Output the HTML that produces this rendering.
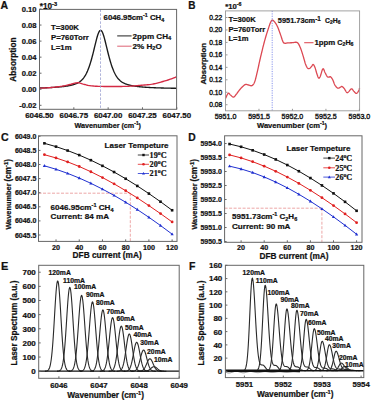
<!DOCTYPE html>
<html><head><meta charset="utf-8"><style>
html,body{margin:0;padding:0;background:#fff;}
body{width:372px;height:400px;overflow:hidden;}
svg{display:block;}
text{stroke:#111;stroke-width:0.22px;paint-order:stroke;}
</style></head><body>
<svg width="372" height="400" viewBox="0 0 372 400">
<rect x="0" y="0" width="372" height="400" fill="#fff"/>
<text x="0.40" y="9.08" font-size="10.5" font-weight="bold" text-anchor="start" fill="#111" font-family='"Liberation Sans", sans-serif' ><tspan dy="-0.00" font-size="10.50">A</tspan></text>
<polyline points="39.50,87.99 40.00,87.98 40.50,87.96 41.00,87.95 41.50,87.93 42.00,87.91 42.50,87.90 43.00,87.88 43.50,87.86 44.00,87.84 44.50,87.83 45.00,87.81 45.50,87.79 46.00,87.77 46.50,87.75 47.00,87.73 47.50,87.70 48.00,87.68 48.50,87.66 49.00,87.64 49.50,87.61 50.00,87.59 50.50,87.56 51.00,87.54 51.50,87.51 52.00,87.48 52.50,87.45 53.00,87.42 53.50,87.39 54.00,87.36 54.50,87.33 55.00,87.30 55.50,87.26 56.00,87.23 56.50,87.19 57.00,87.15 57.50,87.11 58.00,87.07 58.50,87.03 59.00,86.99 59.50,86.94 60.00,86.90 60.50,86.85 61.00,86.80 61.50,86.75 62.00,86.69 62.50,86.64 63.00,86.58 63.50,86.52 64.00,86.46 64.50,86.40 65.00,86.33 65.50,86.26 66.00,86.19 66.50,86.12 67.00,86.04 67.50,85.96 68.00,85.87 68.50,85.78 69.00,85.69 69.50,85.59 70.00,85.49 70.50,85.38 71.00,85.27 71.50,85.16 72.00,85.03 72.50,84.90 73.00,84.76 73.50,84.62 74.00,84.46 74.50,84.30 75.00,84.13 75.50,83.94 76.00,83.74 76.50,83.53 77.00,83.30 77.50,83.06 78.00,82.80 78.50,82.52 79.00,82.22 79.50,81.89 80.00,81.53 80.50,81.15 81.00,80.74 81.50,80.29 82.00,79.80 82.50,79.28 83.00,78.71 83.50,78.09 84.00,77.42 84.50,76.70 85.00,75.92 85.50,75.08 86.00,74.17 86.50,73.20 87.00,72.16 87.50,71.04 88.00,69.84 88.50,68.57 89.00,67.22 89.50,65.79 90.00,64.27 90.50,62.67 91.00,61.00 91.50,59.24 92.00,57.41 92.50,55.52 93.00,53.56 93.50,51.56 94.00,49.51 94.50,47.44 95.00,45.37 95.50,43.31 96.00,41.30 96.50,39.36 97.00,37.52 97.50,35.81 98.00,34.28 98.50,32.95 99.00,31.87 99.50,31.05 100.00,30.53 100.50,30.31 101.00,30.40 101.50,30.81 102.00,31.51 102.50,32.49 103.00,33.72 103.50,35.18 104.00,36.82 104.50,38.61 105.00,40.51 105.50,42.50 106.00,44.54 106.50,46.61 107.00,48.69 107.50,50.74 108.00,52.77 108.50,54.74 109.00,56.66 109.50,58.52 110.00,60.30 110.50,62.01 111.00,63.64 111.50,65.19 112.00,66.66 112.50,68.04 113.00,69.34 113.50,70.57 114.00,71.72 114.50,72.79 115.00,73.79 115.50,74.72 116.00,75.59 116.50,76.39 117.00,77.14 117.50,77.83 118.00,78.46 118.50,79.05 119.00,79.60 119.50,80.10 120.00,80.56 120.50,80.99 121.00,81.38 121.50,81.75 122.00,82.09 122.50,82.40 123.00,82.69 123.50,82.96 124.00,83.21 124.50,83.44 125.00,83.66 125.50,83.86 126.00,84.05 126.50,84.23 127.00,84.40 127.50,84.56 128.00,84.71 128.50,84.85 129.00,84.98 129.50,85.11 130.00,85.23 130.50,85.34 131.00,85.45 131.50,85.55 132.00,85.65 132.50,85.75 133.00,85.84 133.50,85.92 134.00,86.01 134.50,86.08 135.00,86.16 135.50,86.23 136.00,86.30 136.50,86.37 137.00,86.44 137.50,86.50 138.00,86.56 138.50,86.62 139.00,86.67 139.50,86.73 140.00,86.78 140.50,86.83 141.00,86.88 141.50,86.92 142.00,86.97 142.50,87.01 143.00,87.06 143.50,87.10 144.00,87.14 144.50,87.17 145.00,87.21 145.50,87.25 146.00,87.28 146.50,87.32 147.00,87.35 147.50,87.38 148.00,87.41 148.50,87.44 149.00,87.47 149.50,87.50 150.00,87.52 150.50,87.55 151.00,87.58 151.50,87.60 152.00,87.63 152.50,87.65 153.00,87.67 153.50,87.70 154.00,87.72 154.50,87.74 155.00,87.76 155.50,87.78 156.00,87.80 156.50,87.82 157.00,87.84 157.50,87.85 158.00,87.87 158.50,87.89 159.00,87.91 159.50,87.92 160.00,87.94 160.50,87.95 161.00,87.97 161.50,87.98 162.00,88.00 162.50,88.01 163.00,88.03 163.50,88.04 164.00,88.05 164.50,88.07 165.00,88.08 165.50,88.09 166.00,88.10 166.50,88.12 167.00,88.13 167.50,88.14 168.00,88.15 168.50,88.16 169.00,88.17 169.50,88.18 170.00,88.19 170.50,88.20 171.00,88.21 171.50,88.22 172.00,88.23 172.50,88.24 173.00,88.25 173.50,88.26 174.00,88.27 174.50,88.27 175.00,88.28 175.50,88.29 176.00,88.30 176.50,88.31" fill="none" stroke="#1a1a1a" stroke-width="1.35" stroke-linejoin="round" />
<polyline points="39.50,88.30 40.30,88.25 41.35,88.19 42.60,88.12 44.00,88.04 45.49,87.94 47.02,87.84 48.54,87.73 50.00,87.60 51.46,87.46 52.99,87.31 54.57,87.14 56.16,86.96 57.73,86.78 59.25,86.59 60.68,86.39 62.00,86.20 63.19,86.00 64.29,85.80 65.31,85.59 66.28,85.37 67.21,85.15 68.13,84.94 69.05,84.72 70.00,84.50 70.97,84.26 71.93,83.99 72.89,83.70 73.84,83.42 74.78,83.17 75.71,82.96 76.61,82.81 77.50,82.75 78.36,82.79 79.21,82.91 80.03,83.10 80.84,83.33 81.64,83.58 82.43,83.85 83.22,84.09 84.00,84.30 84.75,84.49 85.44,84.68 86.11,84.87 86.78,85.05 87.48,85.23 88.23,85.40 89.06,85.56 90.00,85.70 91.00,85.83 92.03,85.94 93.11,86.04 94.25,86.13 95.49,86.21 96.84,86.28 98.34,86.35 100.00,86.40 101.91,86.44 104.08,86.48 106.43,86.50 108.88,86.51 111.34,86.52 113.73,86.52 115.98,86.51 118.00,86.50 119.80,86.49 121.47,86.46 123.03,86.44 124.50,86.41 125.91,86.37 127.28,86.32 128.64,86.26 130.00,86.20 131.33,86.13 132.59,86.04 133.81,85.95 135.00,85.86 136.19,85.75 137.41,85.64 138.67,85.52 140.00,85.40 141.43,85.27 142.95,85.14 144.53,85.01 146.12,84.87 147.71,84.72 149.23,84.56 150.68,84.39 152.00,84.20 153.19,84.00 154.28,83.78 155.29,83.56 156.25,83.32 157.18,83.07 158.09,82.82 159.03,82.56 160.00,82.30 161.00,82.04 161.99,81.77 162.99,81.50 163.98,81.22 164.98,80.93 165.98,80.63 166.99,80.32 168.00,80.00 169.08,79.64 170.25,79.23 171.46,78.79 172.65,78.36 173.78,77.94 174.80,77.56 175.66,77.24 176.30,77.00" fill="none" stroke="#d42a44" stroke-width="1.35" stroke-linejoin="round" />
<line x1="100.50" y1="9.40" x2="100.50" y2="109.30" stroke="#9aa0d0" stroke-width="0.8" stroke-dasharray="2.5,1.5"/>
<rect x="39.50" y="9.40" width="137.10" height="99.90" fill="none" stroke="#666" stroke-width="1"/>
<text x="36.50" y="11.74" font-size="7.6" font-weight="bold" text-anchor="end" fill="#111" font-family='"Liberation Sans", sans-serif' ><tspan dy="-0.00" font-size="7.60">0.10</tspan></text>
<line x1="39.50" y1="9.00" x2="41.50" y2="9.00" stroke="#666" stroke-width="1" />
<text x="36.50" y="27.79" font-size="7.6" font-weight="bold" text-anchor="end" fill="#111" font-family='"Liberation Sans", sans-serif' ><tspan dy="-0.00" font-size="7.60">0.08</tspan></text>
<line x1="39.50" y1="25.05" x2="41.50" y2="25.05" stroke="#666" stroke-width="1" />
<text x="36.50" y="43.84" font-size="7.6" font-weight="bold" text-anchor="end" fill="#111" font-family='"Liberation Sans", sans-serif' ><tspan dy="-0.00" font-size="7.60">0.06</tspan></text>
<line x1="39.50" y1="41.10" x2="41.50" y2="41.10" stroke="#666" stroke-width="1" />
<text x="36.50" y="59.89" font-size="7.6" font-weight="bold" text-anchor="end" fill="#111" font-family='"Liberation Sans", sans-serif' ><tspan dy="-0.00" font-size="7.60">0.04</tspan></text>
<line x1="39.50" y1="57.15" x2="41.50" y2="57.15" stroke="#666" stroke-width="1" />
<text x="36.50" y="75.94" font-size="7.6" font-weight="bold" text-anchor="end" fill="#111" font-family='"Liberation Sans", sans-serif' ><tspan dy="-0.00" font-size="7.60">0.02</tspan></text>
<line x1="39.50" y1="73.20" x2="41.50" y2="73.20" stroke="#666" stroke-width="1" />
<text x="36.50" y="91.99" font-size="7.6" font-weight="bold" text-anchor="end" fill="#111" font-family='"Liberation Sans", sans-serif' ><tspan dy="-0.00" font-size="7.60">0.00</tspan></text>
<line x1="39.50" y1="89.25" x2="41.50" y2="89.25" stroke="#666" stroke-width="1" />
<text x="36.50" y="108.04" font-size="7.6" font-weight="bold" text-anchor="end" fill="#111" font-family='"Liberation Sans", sans-serif' ><tspan dy="-0.00" font-size="7.60">-0.02</tspan></text>
<line x1="39.50" y1="105.30" x2="41.50" y2="105.30" stroke="#666" stroke-width="1" />
<text x="39.50" y="118.14" font-size="7.9" font-weight="bold" text-anchor="middle" fill="#111" font-family='"Liberation Sans", sans-serif' ><tspan dy="-0.00" font-size="7.90">6046.50</tspan></text>
<line x1="39.50" y1="109.30" x2="39.50" y2="107.30" stroke="#666" stroke-width="1" />
<text x="73.83" y="118.14" font-size="7.9" font-weight="bold" text-anchor="middle" fill="#111" font-family='"Liberation Sans", sans-serif' ><tspan dy="-0.00" font-size="7.90">6046.75</tspan></text>
<line x1="73.83" y1="109.30" x2="73.83" y2="107.30" stroke="#666" stroke-width="1" />
<text x="108.15" y="118.14" font-size="7.9" font-weight="bold" text-anchor="middle" fill="#111" font-family='"Liberation Sans", sans-serif' ><tspan dy="-0.00" font-size="7.90">6047.00</tspan></text>
<line x1="108.15" y1="109.30" x2="108.15" y2="107.30" stroke="#666" stroke-width="1" />
<text x="142.48" y="118.14" font-size="7.9" font-weight="bold" text-anchor="middle" fill="#111" font-family='"Liberation Sans", sans-serif' ><tspan dy="-0.00" font-size="7.90">6047.25</tspan></text>
<line x1="142.48" y1="109.30" x2="142.48" y2="107.30" stroke="#666" stroke-width="1" />
<text x="176.80" y="118.14" font-size="7.9" font-weight="bold" text-anchor="middle" fill="#111" font-family='"Liberation Sans", sans-serif' ><tspan dy="-0.00" font-size="7.90">6047.50</tspan></text>
<line x1="176.80" y1="109.30" x2="176.80" y2="107.30" stroke="#666" stroke-width="1" />
<text x="39.80" y="9.35" font-size="8.2" font-weight="bold" text-anchor="start" fill="#111" font-family='"Liberation Sans", sans-serif' ><tspan dy="-0.00" font-size="8.20">*10</tspan><tspan dy="-3.12" font-size="5.58">-3</tspan></text>
<text transform="translate(12.60,59.60) rotate(-90)" x="0" y="2.99" font-size="8.3" font-weight="bold" text-anchor="middle" fill="#111" font-family='"Liberation Sans", sans-serif'><tspan dy="-0.00" font-size="8.30">Absorption</tspan></text>
<text x="74.60" y="127.89" font-size="7.2" font-weight="bold" text-anchor="start" fill="#111" font-family='"Liberation Sans", sans-serif' ><tspan dy="-0.00" font-size="7.20">Wavenumber (cm</tspan><tspan dy="-2.74" font-size="4.90">-1</tspan><tspan dy="2.74" font-size="7.20">)</tspan></text>
<text x="51.00" y="30.11" font-size="7.8" font-weight="bold" text-anchor="start" fill="#111" font-family='"Liberation Sans", sans-serif' ><tspan dy="-0.00" font-size="7.80">T=300K</tspan></text>
<text x="51.00" y="40.21" font-size="7.8" font-weight="bold" text-anchor="start" fill="#111" font-family='"Liberation Sans", sans-serif' ><tspan dy="-0.00" font-size="7.80">P=760Torr</tspan></text>
<text x="51.00" y="50.01" font-size="7.8" font-weight="bold" text-anchor="start" fill="#111" font-family='"Liberation Sans", sans-serif' ><tspan dy="-0.00" font-size="7.80">L=1m</tspan></text>
<text x="103.60" y="20.41" font-size="7.8" font-weight="bold" text-anchor="start" fill="#111" font-family='"Liberation Sans", sans-serif' ><tspan dy="-0.00" font-size="7.80">6046.95cm</tspan><tspan dy="-2.96" font-size="5.30">-1</tspan><tspan dy="2.96" font-size="7.80"> CH</tspan><tspan dy="1.56" font-size="5.30">4</tspan></text>
<line x1="117.20" y1="35.90" x2="131.60" y2="35.90" stroke="#333" stroke-width="1.1" />
<line x1="117.20" y1="46.20" x2="131.60" y2="46.20" stroke="#e07080" stroke-width="1.1" />
<text x="132.50" y="39.02" font-size="8.1" font-weight="bold" text-anchor="start" fill="#111" font-family='"Liberation Sans", sans-serif' ><tspan dy="-0.00" font-size="8.10">2ppm CH</tspan><tspan dy="0.97" font-size="5.67">4</tspan></text>
<text x="132.50" y="48.72" font-size="8.1" font-weight="bold" text-anchor="start" fill="#111" font-family='"Liberation Sans", sans-serif' ><tspan dy="-0.00" font-size="8.10">2% H</tspan><tspan dy="0.97" font-size="5.67">2</tspan><tspan dy="-0.97" font-size="8.10">O</tspan></text>
<text x="188.20" y="8.90" font-size="10" font-weight="bold" text-anchor="start" fill="#111" font-family='"Liberation Sans", sans-serif' ><tspan dy="-0.00" font-size="10.00">B</tspan></text>
<polyline points="225.50,98.50 225.71,98.05 225.99,97.40 226.33,96.63 226.71,95.79 227.10,94.97 227.49,94.24 227.86,93.66 228.20,93.30 228.50,93.18 228.78,93.23 229.06,93.41 229.32,93.69 229.60,94.03 229.88,94.39 230.18,94.72 230.50,95.00 230.85,95.28 231.22,95.62 231.61,95.99 232.01,96.35 232.42,96.68 232.82,96.93 233.22,97.08 233.60,97.10 233.97,96.96 234.35,96.70 234.72,96.33 235.09,95.89 235.45,95.41 235.81,94.92 236.16,94.44 236.50,94.00 236.83,93.59 237.14,93.17 237.44,92.75 237.74,92.32 238.04,91.89 238.35,91.46 238.67,91.03 239.00,90.60 239.35,90.17 239.71,89.73 240.07,89.29 240.44,88.86 240.82,88.42 241.21,88.00 241.60,87.59 242.00,87.20 242.41,86.81 242.83,86.40 243.26,86.00 243.69,85.61 244.13,85.25 244.56,84.93 244.99,84.68 245.40,84.50 245.80,84.41 246.19,84.40 246.57,84.45 246.95,84.54 247.33,84.66 247.71,84.79 248.10,84.91 248.50,85.00 248.92,85.10 249.35,85.24 249.78,85.40 250.22,85.56 250.66,85.68 251.09,85.74 251.51,85.73 251.90,85.60 252.27,85.40 252.62,85.15 252.96,84.85 253.29,84.47 253.62,84.02 253.94,83.46 254.27,82.79 254.60,82.00 254.94,81.05 255.28,79.95 255.62,78.73 255.96,77.41 256.29,76.03 256.63,74.62 256.97,73.20 257.30,71.80 257.63,70.38 257.97,68.87 258.31,67.33 258.65,65.76 258.98,64.22 259.30,62.72 259.61,61.30 259.90,60.00 260.17,58.82 260.42,57.73 260.66,56.71 260.89,55.74 261.12,54.81 261.34,53.89 261.57,52.96 261.80,52.00 262.03,51.03 262.27,50.07 262.49,49.12 262.73,48.17 262.96,47.22 263.20,46.26 263.44,45.29 263.70,44.30 263.97,43.28 264.25,42.24 264.53,41.18 264.83,40.12 265.12,39.06 265.42,38.01 265.71,36.99 266.00,36.00 266.29,35.04 266.58,34.09 266.88,33.16 267.17,32.24 267.46,31.35 267.75,30.48 268.03,29.63 268.30,28.80 268.57,27.99 268.82,27.18 269.08,26.39 269.32,25.63 269.57,24.89 269.81,24.21 270.06,23.57 270.30,23.00 270.54,22.48 270.77,21.99 271.00,21.54 271.23,21.14 271.46,20.80 271.70,20.52 271.94,20.32 272.20,20.20 272.46,20.17 272.74,20.23 273.01,20.35 273.29,20.55 273.58,20.80 273.88,21.10 274.19,21.44 274.50,21.80 274.82,22.19 275.16,22.61 275.50,23.07 275.84,23.57 276.20,24.13 276.56,24.75 276.93,25.44 277.30,26.20 277.68,27.07 278.09,28.04 278.50,29.10 278.91,30.21 279.33,31.35 279.73,32.48 280.13,33.57 280.50,34.60 280.86,35.61 281.21,36.66 281.55,37.72 281.88,38.74 282.20,39.72 282.51,40.60 282.81,41.37 283.10,42.00 283.37,42.47 283.62,42.79 283.86,43.00 284.09,43.13 284.31,43.20 284.53,43.23 284.76,43.26 285.00,43.30 285.22,43.34 285.42,43.34 285.61,43.30 285.80,43.25 286.02,43.18 286.28,43.11 286.60,43.05 287.00,43.00 287.49,42.96 288.05,42.92 288.68,42.88 289.35,42.84 290.04,42.80 290.75,42.76 291.44,42.73 292.10,42.70 292.76,42.64 293.44,42.53 294.13,42.40 294.82,42.29 295.49,42.22 296.14,42.23 296.75,42.34 297.30,42.60 297.80,43.00 298.25,43.53 298.67,44.15 299.06,44.86 299.43,45.62 299.79,46.43 300.14,47.26 300.50,48.10 300.86,48.96 301.20,49.88 301.53,50.84 301.85,51.84 302.17,52.85 302.48,53.88 302.79,54.89 303.10,55.90 303.41,56.93 303.72,58.00 304.03,59.10 304.34,60.19 304.64,61.25 304.93,62.26 305.22,63.18 305.50,64.00 305.77,64.72 306.03,65.37 306.28,65.95 306.53,66.47 306.77,66.94 307.02,67.34 307.26,67.70 307.50,68.00 307.74,68.25 307.98,68.43 308.21,68.55 308.44,68.62 308.68,68.65 308.91,68.63 309.15,68.58 309.40,68.50 309.66,68.37 309.92,68.18 310.19,67.93 310.46,67.66 310.73,67.36 311.00,67.06 311.26,66.77 311.50,66.50 311.73,66.22 311.95,65.88 312.16,65.53 312.37,65.19 312.57,64.88 312.78,64.65 312.99,64.51 313.20,64.50 313.42,64.62 313.64,64.83 313.87,65.13 314.09,65.50 314.32,65.94 314.55,66.42 314.77,66.95 315.00,67.50 315.23,68.12 315.45,68.82 315.68,69.60 315.90,70.41 316.12,71.23 316.35,72.04 316.57,72.80 316.80,73.50 317.03,74.18 317.25,74.87 317.48,75.56 317.71,76.22 317.94,76.82 318.16,77.33 318.38,77.73 318.60,78.00 318.80,78.14 318.99,78.19 319.17,78.15 319.34,78.01 319.53,77.78 319.73,77.45 319.95,77.03 320.20,76.50 320.49,75.76 320.81,74.74 321.16,73.57 321.52,72.32 321.88,71.12 322.24,70.07 322.58,69.26 322.90,68.80 323.19,68.71 323.46,68.92 323.73,69.34 323.98,69.92 324.23,70.59 324.48,71.29 324.74,71.95 325.00,72.50 325.27,73.01 325.55,73.56 325.84,74.12 326.12,74.69 326.40,75.23 326.68,75.72 326.94,76.16 327.20,76.50 327.45,76.75 327.69,76.94 327.92,77.06 328.15,77.13 328.37,77.17 328.59,77.19 328.80,77.19 329.00,77.20 329.19,77.17 329.36,77.08 329.52,76.96 329.68,76.82 329.83,76.70 330.00,76.62 330.19,76.61 330.40,76.70 330.64,76.88 330.90,77.11 331.17,77.41 331.46,77.75 331.75,78.14 332.04,78.56 332.32,79.02 332.60,79.50 332.87,80.04 333.13,80.66 333.39,81.34 333.65,82.04 333.91,82.74 334.17,83.42 334.43,84.05 334.70,84.60 334.97,85.09 335.25,85.55 335.54,85.98 335.82,86.38 336.11,86.74 336.38,87.07 336.65,87.35 336.90,87.60 337.14,87.80 337.36,87.96 337.57,88.07 337.78,88.15 337.98,88.20 338.19,88.22 338.39,88.22 338.60,88.20 338.81,88.15 339.03,88.06 339.24,87.93 339.45,87.78 339.66,87.62 339.88,87.47 340.09,87.32 340.30,87.20 340.51,87.08 340.71,86.94 340.92,86.80 341.12,86.66 341.33,86.55 341.54,86.48 341.76,86.46 342.00,86.50 342.25,86.61 342.51,86.76 342.77,86.96 343.04,87.21 343.32,87.48 343.61,87.80 343.90,88.14 344.20,88.50 344.51,88.94 344.84,89.47 345.19,90.06 345.53,90.66 345.87,91.25 346.20,91.78 346.52,92.21 346.80,92.50 347.05,92.66 347.26,92.73 347.45,92.72 347.62,92.64 347.81,92.51 348.00,92.33 348.23,92.13 348.50,91.90 348.82,91.60 349.18,91.17 349.56,90.68 349.97,90.17 350.38,89.68 350.78,89.25 351.15,88.95 351.50,88.80 351.81,88.83 352.10,89.00 352.37,89.27 352.63,89.61 352.89,90.00 353.15,90.40 353.42,90.78 353.70,91.10 354.00,91.42 354.31,91.78 354.63,92.16 354.95,92.53 355.27,92.86 355.59,93.13 355.90,93.32 356.20,93.40 356.50,93.36 356.79,93.21 357.09,92.99 357.38,92.70 357.66,92.37 357.93,92.01 358.17,91.65 358.40,91.30 358.61,90.92 358.80,90.48 358.98,90.01 359.14,89.52 359.28,89.05 359.41,88.62 359.51,88.26 359.60,88.00" fill="none" stroke="#dc4852" stroke-width="1.3" stroke-linejoin="round" />
<line x1="272.20" y1="10.90" x2="272.20" y2="110.80" stroke="#6a78e8" stroke-width="0.8" stroke-dasharray="1.2,1.2"/>
<rect x="225.50" y="10.90" width="134.10" height="99.90" fill="none" stroke="#999" stroke-width="0.9"/>
<text x="222.30" y="19.91" font-size="6.7" font-weight="normal" text-anchor="end" fill="#111" font-family='"Liberation Sans", sans-serif' style="stroke-width:0.35px"><tspan dy="-0.00" font-size="6.70">0.22</tspan></text>
<line x1="225.50" y1="17.50" x2="227.50" y2="17.50" stroke="#999" stroke-width="1" />
<text x="222.30" y="32.37" font-size="6.7" font-weight="normal" text-anchor="end" fill="#111" font-family='"Liberation Sans", sans-serif' style="stroke-width:0.35px"><tspan dy="-0.00" font-size="6.70">0.20</tspan></text>
<line x1="225.50" y1="29.96" x2="227.50" y2="29.96" stroke="#999" stroke-width="1" />
<text x="222.30" y="44.83" font-size="6.7" font-weight="normal" text-anchor="end" fill="#111" font-family='"Liberation Sans", sans-serif' style="stroke-width:0.35px"><tspan dy="-0.00" font-size="6.70">0.18</tspan></text>
<line x1="225.50" y1="42.42" x2="227.50" y2="42.42" stroke="#999" stroke-width="1" />
<text x="222.30" y="57.29" font-size="6.7" font-weight="normal" text-anchor="end" fill="#111" font-family='"Liberation Sans", sans-serif' style="stroke-width:0.35px"><tspan dy="-0.00" font-size="6.70">0.16</tspan></text>
<line x1="225.50" y1="54.88" x2="227.50" y2="54.88" stroke="#999" stroke-width="1" />
<text x="222.30" y="69.75" font-size="6.7" font-weight="normal" text-anchor="end" fill="#111" font-family='"Liberation Sans", sans-serif' style="stroke-width:0.35px"><tspan dy="-0.00" font-size="6.70">0.14</tspan></text>
<line x1="225.50" y1="67.34" x2="227.50" y2="67.34" stroke="#999" stroke-width="1" />
<text x="222.30" y="82.21" font-size="6.7" font-weight="normal" text-anchor="end" fill="#111" font-family='"Liberation Sans", sans-serif' style="stroke-width:0.35px"><tspan dy="-0.00" font-size="6.70">0.12</tspan></text>
<line x1="225.50" y1="79.80" x2="227.50" y2="79.80" stroke="#999" stroke-width="1" />
<text x="222.30" y="94.67" font-size="6.7" font-weight="normal" text-anchor="end" fill="#111" font-family='"Liberation Sans", sans-serif' style="stroke-width:0.35px"><tspan dy="-0.00" font-size="6.70">0.10</tspan></text>
<line x1="225.50" y1="92.26" x2="227.50" y2="92.26" stroke="#999" stroke-width="1" />
<text x="222.30" y="107.13" font-size="6.7" font-weight="normal" text-anchor="end" fill="#111" font-family='"Liberation Sans", sans-serif' style="stroke-width:0.35px"><tspan dy="-0.00" font-size="6.70">0.08</tspan></text>
<line x1="225.50" y1="104.72" x2="227.50" y2="104.72" stroke="#999" stroke-width="1" />
<text x="225.50" y="119.36" font-size="7.1" font-weight="normal" text-anchor="middle" fill="#111" font-family='"Liberation Sans", sans-serif' style="stroke-width:0.35px"><tspan dy="-0.00" font-size="7.10">5951.0</tspan></text>
<line x1="225.50" y1="110.80" x2="225.50" y2="108.80" stroke="#999" stroke-width="1" />
<text x="258.98" y="119.36" font-size="7.1" font-weight="normal" text-anchor="middle" fill="#111" font-family='"Liberation Sans", sans-serif' style="stroke-width:0.35px"><tspan dy="-0.00" font-size="7.10">5951.5</tspan></text>
<line x1="258.98" y1="110.80" x2="258.98" y2="108.80" stroke="#999" stroke-width="1" />
<text x="292.45" y="119.36" font-size="7.1" font-weight="normal" text-anchor="middle" fill="#111" font-family='"Liberation Sans", sans-serif' style="stroke-width:0.35px"><tspan dy="-0.00" font-size="7.10">5952.0</tspan></text>
<line x1="292.45" y1="110.80" x2="292.45" y2="108.80" stroke="#999" stroke-width="1" />
<text x="325.93" y="119.36" font-size="7.1" font-weight="normal" text-anchor="middle" fill="#111" font-family='"Liberation Sans", sans-serif' style="stroke-width:0.35px"><tspan dy="-0.00" font-size="7.10">5952.5</tspan></text>
<line x1="325.93" y1="110.80" x2="325.93" y2="108.80" stroke="#999" stroke-width="1" />
<text x="359.40" y="119.36" font-size="7.1" font-weight="normal" text-anchor="middle" fill="#111" font-family='"Liberation Sans", sans-serif' style="stroke-width:0.35px"><tspan dy="-0.00" font-size="7.10">5953.0</tspan></text>
<line x1="359.40" y1="110.80" x2="359.40" y2="108.80" stroke="#999" stroke-width="1" />
<text x="225.20" y="8.67" font-size="7.7" font-weight="bold" text-anchor="start" fill="#111" font-family='"Liberation Sans", sans-serif' ><tspan dy="-0.00" font-size="7.70">*10</tspan><tspan dy="-2.93" font-size="5.24">-6</tspan></text>
<text transform="translate(203.50,63.80) rotate(-90)" x="0" y="2.81" font-size="7.8" font-weight="bold" text-anchor="middle" fill="#111" font-family='"Liberation Sans", sans-serif'><tspan dy="-0.00" font-size="7.80">Absorption</tspan></text>
<text x="257.00" y="128.34" font-size="7.6" font-weight="bold" text-anchor="start" fill="#111" font-family='"Liberation Sans", sans-serif' ><tspan dy="-0.00" font-size="7.60">Wavenumber (cm</tspan><tspan dy="-2.89" font-size="5.17">-1</tspan><tspan dy="2.89" font-size="7.60">)</tspan></text>
<text x="228.40" y="22.44" font-size="7.6" font-weight="bold" text-anchor="start" fill="#111" font-family='"Liberation Sans", sans-serif' ><tspan dy="-0.00" font-size="7.60">T=300K</tspan></text>
<text x="228.40" y="31.54" font-size="7.6" font-weight="bold" text-anchor="start" fill="#111" font-family='"Liberation Sans", sans-serif' ><tspan dy="-0.00" font-size="7.60">P=760Torr</tspan></text>
<text x="228.40" y="40.64" font-size="7.6" font-weight="bold" text-anchor="start" fill="#111" font-family='"Liberation Sans", sans-serif' ><tspan dy="-0.00" font-size="7.60">L=1m</tspan></text>
<text x="277.80" y="23.46" font-size="7.4" font-weight="bold" text-anchor="start" fill="#111" font-family='"Liberation Sans", sans-serif' ><tspan dy="-0.00" font-size="7.40">5951.73cm</tspan><tspan dy="-2.81" font-size="6.29">-1</tspan><tspan dy="2.81" dx="2.20" font-size="7.40"> </tspan><tspan dy="-0.00" font-size="6.81">C</tspan><tspan dy="0.74" font-size="4.90">2</tspan><tspan dy="-0.74" font-size="6.81">H</tspan><tspan dy="0.74" font-size="4.90">6</tspan></text>
<line x1="304.20" y1="42.70" x2="313.50" y2="42.70" stroke="#e05058" stroke-width="1.1" />
<text x="314.40" y="45.41" font-size="7.8" font-weight="bold" text-anchor="start" fill="#111" font-family='"Liberation Sans", sans-serif' ><tspan dy="-0.00" font-size="7.80">1ppm </tspan><tspan dy="-0.00" font-size="7.18">C</tspan><tspan dy="0.78" font-size="5.17">2</tspan><tspan dy="-0.78" font-size="7.18">H</tspan><tspan dy="0.78" font-size="5.17">6</tspan></text>
<text x="0.90" y="140.72" font-size="10.6" font-weight="bold" text-anchor="start" fill="#111" font-family='"Liberation Sans", sans-serif' ><tspan dy="-0.00" font-size="10.60">C</tspan></text>
<line x1="38.50" y1="193.20" x2="130.30" y2="193.20" stroke="#e89090" stroke-width="0.8" stroke-dasharray="3,1.5"/>
<line x1="130.30" y1="193.20" x2="130.30" y2="241.40" stroke="#e89090" stroke-width="0.8" stroke-dasharray="3,1.5"/>
<polyline points="44.41,143.33 56.02,146.63 67.63,150.56 79.24,155.08 90.85,160.18 102.46,165.84 114.07,172.03 125.68,178.74 137.29,185.93 148.90,193.60 160.51,201.71 172.12,210.26" fill="none" stroke="#111" stroke-width="1.0" stroke-linejoin="round" />
<rect x="43.11" y="142.03" width="2.6" height="2.6" fill="#111"/>
<rect x="54.72" y="145.33" width="2.6" height="2.6" fill="#111"/>
<rect x="66.33" y="149.26" width="2.6" height="2.6" fill="#111"/>
<rect x="77.94" y="153.78" width="2.6" height="2.6" fill="#111"/>
<rect x="89.55" y="158.88" width="2.6" height="2.6" fill="#111"/>
<rect x="101.16" y="164.54" width="2.6" height="2.6" fill="#111"/>
<rect x="112.77" y="170.73" width="2.6" height="2.6" fill="#111"/>
<rect x="124.38" y="177.44" width="2.6" height="2.6" fill="#111"/>
<rect x="135.99" y="184.63" width="2.6" height="2.6" fill="#111"/>
<rect x="147.60" y="192.30" width="2.6" height="2.6" fill="#111"/>
<rect x="159.21" y="200.41" width="2.6" height="2.6" fill="#111"/>
<rect x="170.82" y="208.96" width="2.6" height="2.6" fill="#111"/>
<polyline points="44.41,154.69 56.02,157.94 67.63,161.89 79.24,166.51 90.85,171.74 102.46,177.54 114.07,183.87 125.68,190.69 137.29,197.95 148.90,205.61 160.51,213.62 172.12,221.95" fill="none" stroke="#e02020" stroke-width="1.0" stroke-linejoin="round" />
<circle cx="44.41" cy="154.69" r="1.4" fill="#e02020"/>
<circle cx="56.02" cy="157.94" r="1.4" fill="#e02020"/>
<circle cx="67.63" cy="161.89" r="1.4" fill="#e02020"/>
<circle cx="79.24" cy="166.51" r="1.4" fill="#e02020"/>
<circle cx="90.85" cy="171.74" r="1.4" fill="#e02020"/>
<circle cx="102.46" cy="177.54" r="1.4" fill="#e02020"/>
<circle cx="114.07" cy="183.87" r="1.4" fill="#e02020"/>
<circle cx="125.68" cy="190.69" r="1.4" fill="#e02020"/>
<circle cx="137.29" cy="197.95" r="1.4" fill="#e02020"/>
<circle cx="148.90" cy="205.61" r="1.4" fill="#e02020"/>
<circle cx="160.51" cy="213.62" r="1.4" fill="#e02020"/>
<circle cx="172.12" cy="221.95" r="1.4" fill="#e02020"/>
<polyline points="44.41,165.81 56.02,169.28 67.63,173.37 79.24,178.05 90.85,183.30 102.46,189.10 114.07,195.42 125.68,202.24 137.29,209.55 148.90,217.32 160.51,225.52 172.12,234.15" fill="none" stroke="#2030d0" stroke-width="1.0" stroke-linejoin="round" />
<polygon points="44.41,164.11 46.01,167.01 42.81,167.01" fill="#2030d0"/>
<polygon points="56.02,167.58 57.62,170.48 54.42,170.48" fill="#2030d0"/>
<polygon points="67.63,171.67 69.23,174.57 66.03,174.57" fill="#2030d0"/>
<polygon points="79.24,176.35 80.84,179.25 77.64,179.25" fill="#2030d0"/>
<polygon points="90.85,181.60 92.45,184.50 89.25,184.50" fill="#2030d0"/>
<polygon points="102.46,187.40 104.06,190.30 100.86,190.30" fill="#2030d0"/>
<polygon points="114.07,193.72 115.67,196.62 112.47,196.62" fill="#2030d0"/>
<polygon points="125.68,200.54 127.28,203.44 124.08,203.44" fill="#2030d0"/>
<polygon points="137.29,207.85 138.89,210.75 135.69,210.75" fill="#2030d0"/>
<polygon points="148.90,215.62 150.50,218.52 147.30,218.52" fill="#2030d0"/>
<polygon points="160.51,223.82 162.11,226.72 158.91,226.72" fill="#2030d0"/>
<polygon points="172.12,232.45 173.72,235.35 170.52,235.35" fill="#2030d0"/>
<rect x="38.50" y="135.80" width="138.50" height="105.60" fill="none" stroke="#666" stroke-width="1"/>
<text x="36.30" y="138.82" font-size="7.0" font-weight="bold" text-anchor="end" fill="#111" font-family='"Liberation Sans", sans-serif' ><tspan dy="-0.00" font-size="7.00">6049.0</tspan></text>
<line x1="38.50" y1="136.30" x2="40.50" y2="136.30" stroke="#666" stroke-width="1" />
<text x="36.30" y="152.92" font-size="7.0" font-weight="bold" text-anchor="end" fill="#111" font-family='"Liberation Sans", sans-serif' ><tspan dy="-0.00" font-size="7.00">6048.5</tspan></text>
<line x1="38.50" y1="150.40" x2="40.50" y2="150.40" stroke="#666" stroke-width="1" />
<text x="36.30" y="167.02" font-size="7.0" font-weight="bold" text-anchor="end" fill="#111" font-family='"Liberation Sans", sans-serif' ><tspan dy="-0.00" font-size="7.00">6048.0</tspan></text>
<line x1="38.50" y1="164.50" x2="40.50" y2="164.50" stroke="#666" stroke-width="1" />
<text x="36.30" y="181.12" font-size="7.0" font-weight="bold" text-anchor="end" fill="#111" font-family='"Liberation Sans", sans-serif' ><tspan dy="-0.00" font-size="7.00">6047.5</tspan></text>
<line x1="38.50" y1="178.60" x2="40.50" y2="178.60" stroke="#666" stroke-width="1" />
<text x="36.30" y="195.22" font-size="7.0" font-weight="bold" text-anchor="end" fill="#111" font-family='"Liberation Sans", sans-serif' ><tspan dy="-0.00" font-size="7.00">6047.0</tspan></text>
<line x1="38.50" y1="192.70" x2="40.50" y2="192.70" stroke="#666" stroke-width="1" />
<text x="36.30" y="209.32" font-size="7.0" font-weight="bold" text-anchor="end" fill="#111" font-family='"Liberation Sans", sans-serif' ><tspan dy="-0.00" font-size="7.00">6046.5</tspan></text>
<line x1="38.50" y1="206.80" x2="40.50" y2="206.80" stroke="#666" stroke-width="1" />
<text x="36.30" y="223.42" font-size="7.0" font-weight="bold" text-anchor="end" fill="#111" font-family='"Liberation Sans", sans-serif' ><tspan dy="-0.00" font-size="7.00">6046.0</tspan></text>
<line x1="38.50" y1="220.90" x2="40.50" y2="220.90" stroke="#666" stroke-width="1" />
<text x="36.30" y="237.52" font-size="7.0" font-weight="bold" text-anchor="end" fill="#111" font-family='"Liberation Sans", sans-serif' ><tspan dy="-0.00" font-size="7.00">6045.5</tspan></text>
<line x1="38.50" y1="235.00" x2="40.50" y2="235.00" stroke="#666" stroke-width="1" />
<text x="56.02" y="250.09" font-size="7.2" font-weight="bold" text-anchor="middle" fill="#111" font-family='"Liberation Sans", sans-serif' ><tspan dy="-0.00" font-size="7.20">20</tspan></text>
<line x1="56.02" y1="241.40" x2="56.02" y2="239.40" stroke="#666" stroke-width="1" />
<text x="79.24" y="250.09" font-size="7.2" font-weight="bold" text-anchor="middle" fill="#111" font-family='"Liberation Sans", sans-serif' ><tspan dy="-0.00" font-size="7.20">40</tspan></text>
<line x1="79.24" y1="241.40" x2="79.24" y2="239.40" stroke="#666" stroke-width="1" />
<text x="102.46" y="250.09" font-size="7.2" font-weight="bold" text-anchor="middle" fill="#111" font-family='"Liberation Sans", sans-serif' ><tspan dy="-0.00" font-size="7.20">60</tspan></text>
<line x1="102.46" y1="241.40" x2="102.46" y2="239.40" stroke="#666" stroke-width="1" />
<text x="125.68" y="250.09" font-size="7.2" font-weight="bold" text-anchor="middle" fill="#111" font-family='"Liberation Sans", sans-serif' ><tspan dy="-0.00" font-size="7.20">80</tspan></text>
<line x1="125.68" y1="241.40" x2="125.68" y2="239.40" stroke="#666" stroke-width="1" />
<text x="148.90" y="250.09" font-size="7.2" font-weight="bold" text-anchor="middle" fill="#111" font-family='"Liberation Sans", sans-serif' ><tspan dy="-0.00" font-size="7.20">100</tspan></text>
<line x1="148.90" y1="241.40" x2="148.90" y2="239.40" stroke="#666" stroke-width="1" />
<text x="172.12" y="250.09" font-size="7.2" font-weight="bold" text-anchor="middle" fill="#111" font-family='"Liberation Sans", sans-serif' ><tspan dy="-0.00" font-size="7.20">120</tspan></text>
<line x1="172.12" y1="241.40" x2="172.12" y2="239.40" stroke="#666" stroke-width="1" />
<text transform="translate(7.90,194.30) rotate(-90)" x="0" y="2.66" font-size="7.4" font-weight="bold" text-anchor="middle" fill="#111" font-family='"Liberation Sans", sans-serif'><tspan dy="-0.00" font-size="7.40">Wavenumber </tspan><tspan dy="-0.00" font-size="8.14">(cm</tspan><tspan dy="-2.81" font-size="5.92">-1</tspan><tspan dy="2.81" font-size="8.14">)</tspan></text>
<text x="72.60" y="258.29" font-size="8.3" font-weight="bold" text-anchor="start" fill="#111" font-family='"Liberation Sans", sans-serif' ><tspan dy="-0.00" font-size="8.30">DFB current (mA)</tspan></text>
<text x="104.60" y="148.18" font-size="8.0" font-weight="bold" text-anchor="start" fill="#111" font-family='"Liberation Sans", sans-serif' ><tspan dy="-0.00" font-size="8.00">Laser Tempeture</tspan></text>
<line x1="137.80" y1="155.00" x2="149.00" y2="155.00" stroke="#111" stroke-width="0.8" />
<rect x="142.30" y="153.80" width="2.4" height="2.4" fill="#111"/>
<text x="149.60" y="157.95" font-size="8.2" font-weight="bold" text-anchor="start" fill="#111" font-family='"Liberation Serif", serif' ><tspan dy="-0.00" font-size="8.20">19</tspan><tspan dy="-3.12" font-size="5.74">o</tspan><tspan dy="3.12" font-size="8.20">C</tspan></text>
<line x1="137.80" y1="164.30" x2="149.00" y2="164.30" stroke="#e02020" stroke-width="0.8" />
<circle cx="143.50" cy="164.30" r="1.3" fill="#e02020"/>
<text x="149.60" y="167.25" font-size="8.2" font-weight="bold" text-anchor="start" fill="#111" font-family='"Liberation Serif", serif' ><tspan dy="-0.00" font-size="8.20">20</tspan><tspan dy="-3.12" font-size="5.74">o</tspan><tspan dy="3.12" font-size="8.20">C</tspan></text>
<line x1="137.80" y1="173.50" x2="149.00" y2="173.50" stroke="#2030d0" stroke-width="0.8" />
<polygon points="143.50,171.90 145.00,174.60 142.00,174.60" fill="#2030d0"/>
<text x="149.60" y="176.45" font-size="8.2" font-weight="bold" text-anchor="start" fill="#111" font-family='"Liberation Serif", serif' ><tspan dy="-0.00" font-size="8.20">21</tspan><tspan dy="-3.12" font-size="5.74">o</tspan><tspan dy="3.12" font-size="8.20">C</tspan></text>
<text x="50.60" y="210.32" font-size="8.1" font-weight="bold" text-anchor="start" fill="#111" font-family='"Liberation Sans", sans-serif' ><tspan dy="-0.00" font-size="8.10">6046.95cm</tspan><tspan dy="-3.08" font-size="5.51">-1</tspan><tspan dy="3.08" font-size="8.10"> CH</tspan><tspan dy="1.62" font-size="5.51">4</tspan></text>
<text x="50.60" y="219.22" font-size="8.1" font-weight="bold" text-anchor="start" fill="#111" font-family='"Liberation Sans", sans-serif' ><tspan dy="-0.00" font-size="8.10">Current: 84 mA</tspan></text>
<text x="188.30" y="140.81" font-size="10.3" font-weight="bold" text-anchor="start" fill="#111" font-family='"Liberation Sans", sans-serif' ><tspan dy="-0.00" font-size="10.30">D</tspan></text>
<line x1="224.60" y1="208.20" x2="321.90" y2="208.20" stroke="#e89090" stroke-width="0.8" stroke-dasharray="3,1.5"/>
<line x1="321.90" y1="208.20" x2="321.90" y2="242.30" stroke="#e89090" stroke-width="0.8" stroke-dasharray="3,1.5"/>
<polyline points="229.55,144.04 241.10,146.80 252.65,150.31 264.20,154.54 275.75,159.45 287.30,165.03 298.85,171.23 310.40,178.05 321.95,185.44 333.50,193.38 345.05,201.84 356.60,210.79" fill="none" stroke="#111" stroke-width="1.0" stroke-linejoin="round" />
<rect x="228.25" y="142.74" width="2.6" height="2.6" fill="#111"/>
<rect x="239.80" y="145.50" width="2.6" height="2.6" fill="#111"/>
<rect x="251.35" y="149.01" width="2.6" height="2.6" fill="#111"/>
<rect x="262.90" y="153.24" width="2.6" height="2.6" fill="#111"/>
<rect x="274.45" y="158.15" width="2.6" height="2.6" fill="#111"/>
<rect x="286.00" y="163.73" width="2.6" height="2.6" fill="#111"/>
<rect x="297.55" y="169.93" width="2.6" height="2.6" fill="#111"/>
<rect x="309.10" y="176.75" width="2.6" height="2.6" fill="#111"/>
<rect x="320.65" y="184.14" width="2.6" height="2.6" fill="#111"/>
<rect x="332.20" y="192.08" width="2.6" height="2.6" fill="#111"/>
<rect x="343.75" y="200.54" width="2.6" height="2.6" fill="#111"/>
<rect x="355.30" y="209.49" width="2.6" height="2.6" fill="#111"/>
<polyline points="229.55,154.90 241.10,157.92 252.65,161.68 264.20,166.15 275.75,171.28 287.30,177.04 298.85,183.39 310.40,190.30 321.95,197.71 333.50,205.59 345.05,213.91 356.60,222.63" fill="none" stroke="#e02020" stroke-width="1.0" stroke-linejoin="round" />
<circle cx="229.55" cy="154.90" r="1.4" fill="#e02020"/>
<circle cx="241.10" cy="157.92" r="1.4" fill="#e02020"/>
<circle cx="252.65" cy="161.68" r="1.4" fill="#e02020"/>
<circle cx="264.20" cy="166.15" r="1.4" fill="#e02020"/>
<circle cx="275.75" cy="171.28" r="1.4" fill="#e02020"/>
<circle cx="287.30" cy="177.04" r="1.4" fill="#e02020"/>
<circle cx="298.85" cy="183.39" r="1.4" fill="#e02020"/>
<circle cx="310.40" cy="190.30" r="1.4" fill="#e02020"/>
<circle cx="321.95" cy="197.71" r="1.4" fill="#e02020"/>
<circle cx="333.50" cy="205.59" r="1.4" fill="#e02020"/>
<circle cx="345.05" cy="213.91" r="1.4" fill="#e02020"/>
<circle cx="356.60" cy="222.63" r="1.4" fill="#e02020"/>
<polyline points="229.55,166.16 241.10,168.94 252.65,172.55 264.20,176.94 275.75,182.05 287.30,187.84 298.85,194.26 310.40,201.28 321.95,208.83 333.50,216.87 345.05,225.35 356.60,234.24" fill="none" stroke="#2030d0" stroke-width="1.0" stroke-linejoin="round" />
<polygon points="229.55,164.46 231.15,167.36 227.95,167.36" fill="#2030d0"/>
<polygon points="241.10,167.24 242.70,170.14 239.50,170.14" fill="#2030d0"/>
<polygon points="252.65,170.85 254.25,173.75 251.05,173.75" fill="#2030d0"/>
<polygon points="264.20,175.24 265.80,178.14 262.60,178.14" fill="#2030d0"/>
<polygon points="275.75,180.35 277.35,183.25 274.15,183.25" fill="#2030d0"/>
<polygon points="287.30,186.14 288.90,189.04 285.70,189.04" fill="#2030d0"/>
<polygon points="298.85,192.56 300.45,195.46 297.25,195.46" fill="#2030d0"/>
<polygon points="310.40,199.58 312.00,202.48 308.80,202.48" fill="#2030d0"/>
<polygon points="321.95,207.13 323.55,210.03 320.35,210.03" fill="#2030d0"/>
<polygon points="333.50,215.17 335.10,218.07 331.90,218.07" fill="#2030d0"/>
<polygon points="345.05,223.65 346.65,226.55 343.45,226.55" fill="#2030d0"/>
<polygon points="356.60,232.54 358.20,235.44 355.00,235.44" fill="#2030d0"/>
<rect x="224.60" y="135.80" width="137.40" height="106.50" fill="none" stroke="#666" stroke-width="1"/>
<text x="221.80" y="146.02" font-size="7.0" font-weight="bold" text-anchor="end" fill="#111" font-family='"Liberation Sans", sans-serif' ><tspan dy="-0.00" font-size="7.00">5954.0</tspan></text>
<line x1="224.60" y1="143.50" x2="226.60" y2="143.50" stroke="#666" stroke-width="1" />
<text x="221.80" y="160.02" font-size="7.0" font-weight="bold" text-anchor="end" fill="#111" font-family='"Liberation Sans", sans-serif' ><tspan dy="-0.00" font-size="7.00">5953.5</tspan></text>
<line x1="224.60" y1="157.50" x2="226.60" y2="157.50" stroke="#666" stroke-width="1" />
<text x="221.80" y="174.02" font-size="7.0" font-weight="bold" text-anchor="end" fill="#111" font-family='"Liberation Sans", sans-serif' ><tspan dy="-0.00" font-size="7.00">5953.0</tspan></text>
<line x1="224.60" y1="171.50" x2="226.60" y2="171.50" stroke="#666" stroke-width="1" />
<text x="221.80" y="188.02" font-size="7.0" font-weight="bold" text-anchor="end" fill="#111" font-family='"Liberation Sans", sans-serif' ><tspan dy="-0.00" font-size="7.00">5952.5</tspan></text>
<line x1="224.60" y1="185.50" x2="226.60" y2="185.50" stroke="#666" stroke-width="1" />
<text x="221.80" y="202.02" font-size="7.0" font-weight="bold" text-anchor="end" fill="#111" font-family='"Liberation Sans", sans-serif' ><tspan dy="-0.00" font-size="7.00">5952.0</tspan></text>
<line x1="224.60" y1="199.50" x2="226.60" y2="199.50" stroke="#666" stroke-width="1" />
<text x="221.80" y="216.02" font-size="7.0" font-weight="bold" text-anchor="end" fill="#111" font-family='"Liberation Sans", sans-serif' ><tspan dy="-0.00" font-size="7.00">5951.5</tspan></text>
<line x1="224.60" y1="213.50" x2="226.60" y2="213.50" stroke="#666" stroke-width="1" />
<text x="221.80" y="230.02" font-size="7.0" font-weight="bold" text-anchor="end" fill="#111" font-family='"Liberation Sans", sans-serif' ><tspan dy="-0.00" font-size="7.00">5951.0</tspan></text>
<line x1="224.60" y1="227.50" x2="226.60" y2="227.50" stroke="#666" stroke-width="1" />
<text x="221.80" y="244.02" font-size="7.0" font-weight="bold" text-anchor="end" fill="#111" font-family='"Liberation Sans", sans-serif' ><tspan dy="-0.00" font-size="7.00">5950.5</tspan></text>
<line x1="224.60" y1="241.50" x2="226.60" y2="241.50" stroke="#666" stroke-width="1" />
<text x="241.10" y="250.09" font-size="7.2" font-weight="bold" text-anchor="middle" fill="#111" font-family='"Liberation Sans", sans-serif' ><tspan dy="-0.00" font-size="7.20">20</tspan></text>
<line x1="241.10" y1="242.30" x2="241.10" y2="240.30" stroke="#666" stroke-width="1" />
<text x="264.20" y="250.09" font-size="7.2" font-weight="bold" text-anchor="middle" fill="#111" font-family='"Liberation Sans", sans-serif' ><tspan dy="-0.00" font-size="7.20">40</tspan></text>
<line x1="264.20" y1="242.30" x2="264.20" y2="240.30" stroke="#666" stroke-width="1" />
<text x="287.30" y="250.09" font-size="7.2" font-weight="bold" text-anchor="middle" fill="#111" font-family='"Liberation Sans", sans-serif' ><tspan dy="-0.00" font-size="7.20">60</tspan></text>
<line x1="287.30" y1="242.30" x2="287.30" y2="240.30" stroke="#666" stroke-width="1" />
<text x="310.40" y="250.09" font-size="7.2" font-weight="bold" text-anchor="middle" fill="#111" font-family='"Liberation Sans", sans-serif' ><tspan dy="-0.00" font-size="7.20">80</tspan></text>
<line x1="310.40" y1="242.30" x2="310.40" y2="240.30" stroke="#666" stroke-width="1" />
<text x="333.50" y="250.09" font-size="7.2" font-weight="bold" text-anchor="middle" fill="#111" font-family='"Liberation Sans", sans-serif' ><tspan dy="-0.00" font-size="7.20">100</tspan></text>
<line x1="333.50" y1="242.30" x2="333.50" y2="240.30" stroke="#666" stroke-width="1" />
<text x="356.60" y="250.09" font-size="7.2" font-weight="bold" text-anchor="middle" fill="#111" font-family='"Liberation Sans", sans-serif' ><tspan dy="-0.00" font-size="7.20">120</tspan></text>
<line x1="356.60" y1="242.30" x2="356.60" y2="240.30" stroke="#666" stroke-width="1" />
<text transform="translate(193.90,194.30) rotate(-90)" x="0" y="2.66" font-size="7.4" font-weight="bold" text-anchor="middle" fill="#111" font-family='"Liberation Sans", sans-serif'><tspan dy="-0.00" font-size="7.40">Wavenumber </tspan><tspan dy="-0.00" font-size="8.14">(cm</tspan><tspan dy="-2.81" font-size="5.92">-1</tspan><tspan dy="2.81" font-size="8.14">)</tspan></text>
<text x="259.40" y="258.79" font-size="8.3" font-weight="bold" text-anchor="start" fill="#111" font-family='"Liberation Sans", sans-serif' ><tspan dy="-0.00" font-size="8.30">DFB current (mA)</tspan></text>
<text x="286.50" y="151.38" font-size="8.0" font-weight="bold" text-anchor="start" fill="#111" font-family='"Liberation Sans", sans-serif' ><tspan dy="-0.00" font-size="8.00">Laser Tempeture</tspan></text>
<line x1="323.30" y1="158.10" x2="335.00" y2="158.10" stroke="#111" stroke-width="0.8" />
<rect x="328.10" y="156.90" width="2.4" height="2.4" fill="#111"/>
<text x="335.30" y="161.05" font-size="8.2" font-weight="bold" text-anchor="start" fill="#111" font-family='"Liberation Serif", serif' ><tspan dy="-0.00" font-size="8.20">24</tspan><tspan dy="-3.12" font-size="5.74">o</tspan><tspan dy="3.12" font-size="8.20">C</tspan></text>
<line x1="323.30" y1="167.80" x2="335.00" y2="167.80" stroke="#e02020" stroke-width="0.8" />
<circle cx="329.30" cy="167.80" r="1.3" fill="#e02020"/>
<text x="335.30" y="170.75" font-size="8.2" font-weight="bold" text-anchor="start" fill="#111" font-family='"Liberation Serif", serif' ><tspan dy="-0.00" font-size="8.20">25</tspan><tspan dy="-3.12" font-size="5.74">o</tspan><tspan dy="3.12" font-size="8.20">C</tspan></text>
<line x1="323.30" y1="177.10" x2="335.00" y2="177.10" stroke="#2030d0" stroke-width="0.8" />
<polygon points="329.30,175.50 330.80,178.20 327.80,178.20" fill="#2030d0"/>
<text x="335.30" y="180.05" font-size="8.2" font-weight="bold" text-anchor="start" fill="#111" font-family='"Liberation Serif", serif' ><tspan dy="-0.00" font-size="8.20">26</tspan><tspan dy="-3.12" font-size="5.74">o</tspan><tspan dy="3.12" font-size="8.20">C</tspan></text>
<text x="232.00" y="219.28" font-size="8.0" font-weight="bold" text-anchor="start" fill="#111" font-family='"Liberation Sans", sans-serif' ><tspan dy="-0.00" font-size="8.00">5951.73cm</tspan><tspan dy="-3.04" font-size="5.44">-1</tspan><tspan dy="3.04" font-size="8.00"> C</tspan><tspan dy="1.60" font-size="5.44">2</tspan><tspan dy="-1.60" font-size="8.00">H</tspan><tspan dy="1.60" font-size="5.44">6</tspan></text>
<text x="232.00" y="228.52" font-size="8.1" font-weight="bold" text-anchor="start" fill="#111" font-family='"Liberation Sans", sans-serif' ><tspan dy="-0.00" font-size="8.10">Current: 90 mA</tspan></text>
<text x="1.10" y="269.86" font-size="11" font-weight="bold" text-anchor="start" fill="#111" font-family='"Liberation Sans", sans-serif' ><tspan dy="-0.00" font-size="11.00">E</tspan></text>
<polyline points="44.90,371.17 45.30,371.15 45.70,371.12 46.10,371.07 46.50,371.00 46.90,370.90 47.30,370.74 47.70,370.52 48.10,370.20 48.50,369.75 48.90,369.14 49.30,368.32 49.70,367.23 50.10,365.82 50.50,364.02 50.90,361.76 51.30,358.98 51.70,355.63 52.10,351.67 52.50,347.09 52.90,341.88 53.30,336.11 53.70,329.86 54.10,323.24 54.50,316.43 54.90,309.62 55.30,303.04 55.70,296.92 56.10,291.51 56.50,287.03 56.90,283.68 57.30,281.60 57.70,280.90 58.10,281.60 58.50,283.68 58.90,287.03 59.30,291.51 59.70,296.92 60.10,303.04 60.50,309.62 60.90,316.43 61.30,323.24 61.70,329.86 62.10,336.11 62.50,341.88 62.90,347.09 63.30,351.67 63.70,355.63 64.10,358.98 64.50,361.76 64.90,364.02 65.30,365.82 65.70,367.23 66.10,368.32 66.50,369.14 66.90,369.75 67.30,370.20 67.70,370.52 68.10,370.74 68.50,370.90 68.90,371.00 69.30,371.07 69.70,371.12 70.10,371.15" fill="none" stroke="#2a2a2a" stroke-width="1.1" stroke-linejoin="round" />
<polyline points="57.00,371.17 57.40,371.15 57.80,371.13 58.20,371.08 58.60,371.02 59.00,370.92 59.40,370.77 59.80,370.57 60.20,370.27 60.60,369.86 61.00,369.29 61.40,368.53 61.80,367.52 62.20,366.21 62.60,364.53 63.00,362.44 63.40,359.86 63.80,356.75 64.20,353.08 64.60,348.82 65.00,343.99 65.40,338.64 65.80,332.83 66.20,326.69 66.60,320.37 67.00,314.05 67.40,307.94 67.80,302.27 68.20,297.25 68.60,293.09 69.00,289.98 69.40,288.05 69.80,287.40 70.20,288.05 70.60,289.98 71.00,293.09 71.40,297.25 71.80,302.27 72.20,307.94 72.60,314.05 73.00,320.37 73.40,326.69 73.80,332.83 74.20,338.64 74.60,343.99 75.00,348.82 75.40,353.08 75.80,356.75 76.20,359.86 76.60,362.44 77.00,364.53 77.40,366.21 77.80,367.52 78.20,368.53 78.60,369.29 79.00,369.86 79.40,370.27 79.80,370.57 80.20,370.77 80.60,370.92 81.00,371.02 81.40,371.08 81.80,371.13 82.20,371.15" fill="none" stroke="#2a2a2a" stroke-width="1.1" stroke-linejoin="round" />
<polyline points="68.80,371.17 69.20,371.16 69.60,371.13 70.00,371.09 70.40,371.03 70.80,370.95 71.20,370.81 71.60,370.63 72.00,370.36 72.40,369.98 72.80,369.47 73.20,368.78 73.60,367.87 74.00,366.68 74.40,365.17 74.80,363.27 75.20,360.94 75.60,358.13 76.00,354.81 76.40,350.96 76.80,346.59 77.20,341.75 77.60,336.50 78.00,330.94 78.40,325.22 78.80,319.51 79.20,313.98 79.60,308.85 80.00,304.31 80.40,300.55 80.80,297.73 81.20,295.99 81.60,295.40 82.00,295.99 82.40,297.73 82.80,300.55 83.20,304.31 83.60,308.85 84.00,313.98 84.40,319.51 84.80,325.22 85.20,330.94 85.60,336.50 86.00,341.75 86.40,346.59 86.80,350.96 87.20,354.81 87.60,358.13 88.00,360.94 88.40,363.27 88.80,365.17 89.20,366.68 89.60,367.87 90.00,368.78 90.40,369.47 90.80,369.98 91.20,370.36 91.60,370.63 92.00,370.81 92.40,370.95 92.80,371.03 93.20,371.09 93.60,371.13 94.00,371.16" fill="none" stroke="#2a2a2a" stroke-width="1.1" stroke-linejoin="round" />
<polyline points="79.70,371.18 80.10,371.16 80.50,371.14 80.90,371.10 81.30,371.05 81.70,370.97 82.10,370.85 82.50,370.68 82.90,370.43 83.30,370.09 83.70,369.62 84.10,368.99 84.50,368.16 84.90,367.07 85.30,365.69 85.70,363.95 86.10,361.82 86.50,359.25 86.90,356.21 87.30,352.69 87.70,348.70 88.10,344.27 88.50,339.47 88.90,334.40 89.30,329.17 89.70,323.94 90.10,318.89 90.50,314.20 90.90,310.04 91.30,306.61 91.70,304.03 92.10,302.44 92.50,301.90 92.90,302.44 93.30,304.03 93.70,306.61 94.10,310.04 94.50,314.20 94.90,318.89 95.30,323.94 95.70,329.17 96.10,334.40 96.50,339.47 96.90,344.27 97.30,348.70 97.70,352.69 98.10,356.21 98.50,359.25 98.90,361.82 99.30,363.95 99.70,365.69 100.10,367.07 100.50,368.16 100.90,368.99 101.30,369.62 101.70,370.09 102.10,370.43 102.50,370.68 102.90,370.85 103.30,370.97 103.70,371.05 104.10,371.10 104.50,371.14 104.90,371.16" fill="none" stroke="#2a2a2a" stroke-width="1.1" stroke-linejoin="round" />
<polyline points="90.10,371.18 90.50,371.17 90.90,371.15 91.30,371.11 91.70,371.07 92.10,370.99 92.50,370.89 92.90,370.74 93.30,370.52 93.70,370.22 94.10,369.80 94.50,369.24 94.90,368.51 95.30,367.55 95.70,366.32 96.10,364.79 96.50,362.90 96.90,360.63 97.30,357.94 97.70,354.83 98.10,351.30 98.50,347.38 98.90,343.13 99.30,338.64 99.70,334.02 100.10,329.40 100.50,324.93 100.90,320.78 101.30,317.10 101.70,314.06 102.10,311.79 102.50,310.38 102.90,309.90 103.30,310.38 103.70,311.79 104.10,314.06 104.50,317.10 104.90,320.78 105.30,324.93 105.70,329.40 106.10,334.02 106.50,338.64 106.90,343.13 107.30,347.38 107.70,351.30 108.10,354.83 108.50,357.94 108.90,360.63 109.30,362.90 109.70,364.79 110.10,366.32 110.50,367.55 110.90,368.51 111.30,369.24 111.70,369.80 112.10,370.22 112.50,370.52 112.90,370.74 113.30,370.89 113.70,370.99 114.10,371.07 114.50,371.11 114.90,371.15 115.30,371.17" fill="none" stroke="#2a2a2a" stroke-width="1.1" stroke-linejoin="round" />
<polyline points="99.80,371.18 100.20,371.17 100.60,371.15 101.00,371.12 101.40,371.08 101.80,371.02 102.20,370.93 102.60,370.79 103.00,370.60 103.40,370.34 103.80,369.98 104.20,369.49 104.60,368.84 105.00,368.01 105.40,366.94 105.80,365.59 106.20,363.95 106.60,361.96 107.00,359.61 107.40,356.89 107.80,353.80 108.20,350.37 108.60,346.66 109.00,342.73 109.40,338.69 109.80,334.65 110.20,330.74 110.60,327.11 111.00,323.90 111.40,321.24 111.80,319.25 112.20,318.02 112.60,317.60 113.00,318.02 113.40,319.25 113.80,321.24 114.20,323.90 114.60,327.11 115.00,330.74 115.40,334.65 115.80,338.69 116.20,342.73 116.60,346.66 117.00,350.37 117.40,353.80 117.80,356.89 118.20,359.61 118.60,361.96 119.00,363.95 119.40,365.59 119.80,366.94 120.20,368.01 120.60,368.84 121.00,369.49 121.40,369.98 121.80,370.34 122.20,370.60 122.60,370.79 123.00,370.93 123.40,371.02 123.80,371.08 124.20,371.12 124.60,371.15 125.00,371.17" fill="none" stroke="#2a2a2a" stroke-width="1.1" stroke-linejoin="round" />
<polyline points="108.50,371.18 108.90,371.18 109.30,371.16 109.70,371.14 110.10,371.10 110.50,371.05 110.90,370.97 111.30,370.86 111.70,370.70 112.10,370.48 112.50,370.17 112.90,369.76 113.30,369.22 113.70,368.51 114.10,367.61 114.50,366.48 114.90,365.10 115.30,363.42 115.70,361.45 116.10,359.16 116.50,356.56 116.90,353.68 117.30,350.55 117.70,347.25 118.10,343.85 118.50,340.44 118.90,337.16 119.30,334.10 119.70,331.40 120.10,329.16 120.50,327.49 120.90,326.45 121.30,326.10 121.70,326.45 122.10,327.49 122.50,329.16 122.90,331.40 123.30,334.10 123.70,337.16 124.10,340.44 124.50,343.85 124.90,347.25 125.30,350.55 125.70,353.68 126.10,356.56 126.50,359.16 126.90,361.45 127.30,363.42 127.70,365.10 128.10,366.48 128.50,367.61 128.90,368.51 129.30,369.22 129.70,369.76 130.10,370.17 130.50,370.48 130.90,370.70 131.30,370.86 131.70,370.97 132.10,371.05 132.50,371.10 132.90,371.14 133.30,371.16 133.70,371.18" fill="none" stroke="#2a2a2a" stroke-width="1.1" stroke-linejoin="round" />
<polyline points="116.50,371.19 116.90,371.18 117.30,371.17 117.70,371.15 118.10,371.12 118.50,371.07 118.90,371.01 119.30,370.92 119.70,370.79 120.10,370.60 120.50,370.35 120.90,370.01 121.30,369.57 121.70,368.98 122.10,368.24 122.50,367.31 122.90,366.17 123.30,364.79 123.70,363.15 124.10,361.27 124.50,359.12 124.90,356.75 125.30,354.17 125.70,351.44 126.10,348.64 126.50,345.83 126.90,343.12 127.30,340.60 127.70,338.37 128.10,336.53 128.50,335.14 128.90,334.29 129.30,334.00 129.70,334.29 130.10,335.14 130.50,336.53 130.90,338.37 131.30,340.60 131.70,343.12 132.10,345.83 132.50,348.64 132.90,351.44 133.30,354.17 133.70,356.75 134.10,359.12 134.50,361.27 134.90,363.15 135.30,364.79 135.70,366.17 136.10,367.31 136.50,368.24 136.90,368.98 137.30,369.57 137.70,370.01 138.10,370.35 138.50,370.60 138.90,370.79 139.30,370.92 139.70,371.01 140.10,371.07 140.50,371.12 140.90,371.15 141.30,371.17 141.70,371.18" fill="none" stroke="#2a2a2a" stroke-width="1.1" stroke-linejoin="round" />
<polyline points="123.90,371.19 124.30,371.18 124.70,371.17 125.10,371.16 125.50,371.14 125.90,371.10 126.30,371.05 126.70,370.98 127.10,370.88 127.50,370.74 127.90,370.54 128.30,370.28 128.70,369.93 129.10,369.48 129.50,368.90 129.90,368.18 130.30,367.29 130.70,366.22 131.10,364.95 131.50,363.48 131.90,361.82 132.30,359.97 132.70,357.97 133.10,355.85 133.50,353.67 133.90,351.49 134.30,349.39 134.70,347.43 135.10,345.70 135.50,344.26 135.90,343.19 136.30,342.52 136.70,342.30 137.10,342.52 137.50,343.19 137.90,344.26 138.30,345.70 138.70,347.43 139.10,349.39 139.50,351.49 139.90,353.67 140.30,355.85 140.70,357.97 141.10,359.97 141.50,361.82 141.90,363.48 142.30,364.95 142.70,366.22 143.10,367.29 143.50,368.18 143.90,368.90 144.30,369.48 144.70,369.93 145.10,370.28 145.50,370.54 145.90,370.74 146.30,370.88 146.70,370.98 147.10,371.05 147.50,371.10 147.90,371.14 148.30,371.16 148.70,371.17 149.10,371.18" fill="none" stroke="#2a2a2a" stroke-width="1.1" stroke-linejoin="round" />
<polyline points="130.80,371.19 131.20,371.19 131.60,371.18 132.00,371.17 132.40,371.15 132.80,371.13 133.20,371.09 133.60,371.04 134.00,370.96 134.40,370.86 134.80,370.72 135.20,370.52 135.60,370.27 136.00,369.94 136.40,369.51 136.80,368.98 137.20,368.33 137.60,367.54 138.00,366.62 138.40,365.54 138.80,364.32 139.20,362.96 139.60,361.49 140.00,359.94 140.40,358.34 140.80,356.74 141.20,355.20 141.60,353.76 142.00,352.49 142.40,351.44 142.80,350.65 143.20,350.16 143.60,350.00 144.00,350.16 144.40,350.65 144.80,351.44 145.20,352.49 145.60,353.76 146.00,355.20 146.40,356.74 146.80,358.34 147.20,359.94 147.60,361.49 148.00,362.96 148.40,364.32 148.80,365.54 149.20,366.62 149.60,367.54 150.00,368.33 150.40,368.98 150.80,369.51 151.20,369.94 151.60,370.27 152.00,370.52 152.40,370.72 152.80,370.86 153.20,370.96 153.60,371.04 154.00,371.09 154.40,371.13 154.80,371.15 155.20,371.17 155.60,371.18 156.00,371.19" fill="none" stroke="#2a2a2a" stroke-width="1.1" stroke-linejoin="round" />
<polyline points="137.10,371.20 137.50,371.19 137.90,371.19 138.30,371.18 138.70,371.17 139.10,371.16 139.50,371.14 139.90,371.11 140.30,371.06 140.70,371.00 141.10,370.92 141.50,370.80 141.90,370.66 142.30,370.46 142.70,370.21 143.10,369.90 143.50,369.52 143.90,369.06 144.30,368.52 144.70,367.89 145.10,367.17 145.50,366.38 145.90,365.52 146.30,364.61 146.70,363.68 147.10,362.74 147.50,361.84 147.90,361.00 148.30,360.26 148.70,359.64 149.10,359.18 149.50,358.90 149.90,358.80 150.30,358.90 150.70,359.18 151.10,359.64 151.50,360.26 151.90,361.00 152.30,361.84 152.70,362.74 153.10,363.68 153.50,364.61 153.90,365.52 154.30,366.38 154.70,367.17 155.10,367.89 155.50,368.52 155.90,369.06 156.30,369.52 156.70,369.90 157.10,370.21 157.50,370.46 157.90,370.66 158.30,370.80 158.70,370.92 159.10,371.00 159.50,371.06 159.90,371.11 160.30,371.14 160.70,371.16 161.10,371.17 161.50,371.18 161.90,371.19 162.30,371.19" fill="none" stroke="#2a2a2a" stroke-width="1.1" stroke-linejoin="round" />
<polyline points="141.20,371.20 141.60,371.20 142.00,371.20 142.40,371.19 142.80,371.19 143.20,371.18 143.60,371.18 144.00,371.17 144.40,371.15 144.80,371.13 145.20,371.10 145.60,371.06 146.00,371.00 146.40,370.93 146.80,370.84 147.20,370.73 147.60,370.59 148.00,370.42 148.40,370.23 148.80,370.00 149.20,369.74 149.60,369.45 150.00,369.14 150.40,368.81 150.80,368.47 151.20,368.13 151.60,367.80 152.00,367.50 152.40,367.23 152.80,367.01 153.20,366.84 153.60,366.74 154.00,366.70 154.40,366.74 154.80,366.84 155.20,367.01 155.60,367.23 156.00,367.50 156.40,367.80 156.80,368.13 157.20,368.47 157.60,368.81 158.00,369.14 158.40,369.45 158.80,369.74 159.20,370.00 159.60,370.23 160.00,370.42 160.40,370.59 160.80,370.73 161.20,370.84 161.60,370.93 162.00,371.00 162.40,371.06 162.80,371.10 163.20,371.13 163.60,371.15 164.00,371.17 164.40,371.18 164.80,371.18 165.20,371.19 165.60,371.19 166.00,371.20 166.40,371.20" fill="none" stroke="#2a2a2a" stroke-width="1.1" stroke-linejoin="round" />
<line x1="38.70" y1="371.20" x2="179.20" y2="371.20" stroke="#111" stroke-width="1.3" />
<rect x="38.70" y="265.30" width="140.50" height="113.00" fill="none" stroke="#666" stroke-width="1"/>
<text x="35.80" y="275.10" font-size="8.0" font-weight="bold" text-anchor="end" fill="#111" font-family='"Liberation Sans", sans-serif' ><tspan dy="-0.00" font-size="8.00">700</tspan></text>
<line x1="38.70" y1="272.22" x2="40.70" y2="272.22" stroke="#666" stroke-width="1" />
<text x="35.80" y="289.24" font-size="8.0" font-weight="bold" text-anchor="end" fill="#111" font-family='"Liberation Sans", sans-serif' ><tspan dy="-0.00" font-size="8.00">600</tspan></text>
<line x1="38.70" y1="286.36" x2="40.70" y2="286.36" stroke="#666" stroke-width="1" />
<text x="35.80" y="303.38" font-size="8.0" font-weight="bold" text-anchor="end" fill="#111" font-family='"Liberation Sans", sans-serif' ><tspan dy="-0.00" font-size="8.00">500</tspan></text>
<line x1="38.70" y1="300.50" x2="40.70" y2="300.50" stroke="#666" stroke-width="1" />
<text x="35.80" y="317.52" font-size="8.0" font-weight="bold" text-anchor="end" fill="#111" font-family='"Liberation Sans", sans-serif' ><tspan dy="-0.00" font-size="8.00">400</tspan></text>
<line x1="38.70" y1="314.64" x2="40.70" y2="314.64" stroke="#666" stroke-width="1" />
<text x="35.80" y="331.66" font-size="8.0" font-weight="bold" text-anchor="end" fill="#111" font-family='"Liberation Sans", sans-serif' ><tspan dy="-0.00" font-size="8.00">300</tspan></text>
<line x1="38.70" y1="328.78" x2="40.70" y2="328.78" stroke="#666" stroke-width="1" />
<text x="35.80" y="345.80" font-size="8.0" font-weight="bold" text-anchor="end" fill="#111" font-family='"Liberation Sans", sans-serif' ><tspan dy="-0.00" font-size="8.00">200</tspan></text>
<line x1="38.70" y1="342.92" x2="40.70" y2="342.92" stroke="#666" stroke-width="1" />
<text x="35.80" y="359.94" font-size="8.0" font-weight="bold" text-anchor="end" fill="#111" font-family='"Liberation Sans", sans-serif' ><tspan dy="-0.00" font-size="8.00">100</tspan></text>
<line x1="38.70" y1="357.06" x2="40.70" y2="357.06" stroke="#666" stroke-width="1" />
<text x="35.80" y="374.08" font-size="8.0" font-weight="bold" text-anchor="end" fill="#111" font-family='"Liberation Sans", sans-serif' ><tspan dy="-0.00" font-size="8.00">0</tspan></text>
<line x1="38.70" y1="371.20" x2="40.70" y2="371.20" stroke="#666" stroke-width="1" />
<text x="58.90" y="387.61" font-size="7.8" font-weight="bold" text-anchor="middle" fill="#111" font-family='"Liberation Sans", sans-serif' ><tspan dy="-0.00" font-size="7.80">6046</tspan></text>
<line x1="58.90" y1="378.30" x2="58.90" y2="376.30" stroke="#666" stroke-width="1" />
<text x="99.00" y="387.61" font-size="7.8" font-weight="bold" text-anchor="middle" fill="#111" font-family='"Liberation Sans", sans-serif' ><tspan dy="-0.00" font-size="7.80">6047</tspan></text>
<line x1="99.00" y1="378.30" x2="99.00" y2="376.30" stroke="#666" stroke-width="1" />
<text x="139.10" y="387.61" font-size="7.8" font-weight="bold" text-anchor="middle" fill="#111" font-family='"Liberation Sans", sans-serif' ><tspan dy="-0.00" font-size="7.80">6048</tspan></text>
<line x1="139.10" y1="378.30" x2="139.10" y2="376.30" stroke="#666" stroke-width="1" />
<text x="179.20" y="387.61" font-size="7.8" font-weight="bold" text-anchor="middle" fill="#111" font-family='"Liberation Sans", sans-serif' ><tspan dy="-0.00" font-size="7.80">6049</tspan></text>
<line x1="179.20" y1="378.30" x2="179.20" y2="376.30" stroke="#666" stroke-width="1" />
<text x="48.50" y="275.35" font-size="6.8" font-weight="bold" text-anchor="start" fill="#111" font-family='"Liberation Sans", sans-serif' ><tspan dy="-0.00" font-size="6.80">120mA</tspan></text>
<text x="63.00" y="282.55" font-size="6.8" font-weight="bold" text-anchor="start" fill="#111" font-family='"Liberation Sans", sans-serif' ><tspan dy="-0.00" font-size="6.80">110mA</tspan></text>
<text x="73.90" y="289.35" font-size="6.8" font-weight="bold" text-anchor="start" fill="#111" font-family='"Liberation Sans", sans-serif' ><tspan dy="-0.00" font-size="6.80">100mA</tspan></text>
<text x="86.00" y="297.15" font-size="6.8" font-weight="bold" text-anchor="start" fill="#111" font-family='"Liberation Sans", sans-serif' ><tspan dy="-0.00" font-size="6.80">90mA</tspan></text>
<text x="96.10" y="305.05" font-size="6.8" font-weight="bold" text-anchor="start" fill="#111" font-family='"Liberation Sans", sans-serif' ><tspan dy="-0.00" font-size="6.80">80mA</tspan></text>
<text x="106.50" y="313.55" font-size="6.8" font-weight="bold" text-anchor="start" fill="#111" font-family='"Liberation Sans", sans-serif' ><tspan dy="-0.00" font-size="6.80">70mA</tspan></text>
<text x="116.50" y="320.75" font-size="6.8" font-weight="bold" text-anchor="start" fill="#111" font-family='"Liberation Sans", sans-serif' ><tspan dy="-0.00" font-size="6.80">60mA</tspan></text>
<text x="125.10" y="329.55" font-size="6.8" font-weight="bold" text-anchor="start" fill="#111" font-family='"Liberation Sans", sans-serif' ><tspan dy="-0.00" font-size="6.80">50mA</tspan></text>
<text x="133.40" y="337.25" font-size="6.8" font-weight="bold" text-anchor="start" fill="#111" font-family='"Liberation Sans", sans-serif' ><tspan dy="-0.00" font-size="6.80">40mA</tspan></text>
<text x="140.30" y="344.75" font-size="6.8" font-weight="bold" text-anchor="start" fill="#111" font-family='"Liberation Sans", sans-serif' ><tspan dy="-0.00" font-size="6.80">30mA</tspan></text>
<text x="147.10" y="354.35" font-size="6.8" font-weight="bold" text-anchor="start" fill="#111" font-family='"Liberation Sans", sans-serif' ><tspan dy="-0.00" font-size="6.80">20mA</tspan></text>
<text x="153.90" y="362.15" font-size="6.8" font-weight="bold" text-anchor="start" fill="#111" font-family='"Liberation Sans", sans-serif' ><tspan dy="-0.00" font-size="6.80">10mA</tspan></text>
<text transform="translate(14.10,323.00) rotate(-90)" x="0" y="2.99" font-size="8.3" font-weight="bold" text-anchor="middle" fill="#111" font-family='"Liberation Sans", sans-serif'><tspan dy="-0.00" font-size="8.30">Laser Spectrum (a.u.)</tspan></text>
<text x="67.30" y="397.69" font-size="8.3" font-weight="bold" text-anchor="start" fill="#111" font-family='"Liberation Sans", sans-serif' ><tspan dy="-0.00" font-size="8.30">Wavenumber (cm</tspan><tspan dy="-3.15" font-size="5.64">-1</tspan><tspan dy="3.15" font-size="8.30">)</tspan></text>
<text x="189.00" y="270.18" font-size="10.5" font-weight="bold" text-anchor="start" fill="#111" font-family='"Liberation Sans", sans-serif' ><tspan dy="-0.00" font-size="10.50">F</tspan></text>
<polyline points="242.30,370.67 242.70,370.64 243.10,370.59 243.50,370.51 243.90,370.37 244.30,370.15 244.70,369.79 245.10,369.24 245.50,368.41 245.90,367.20 246.30,365.50 246.70,363.17 247.10,360.06 247.50,356.04 247.90,351.02 248.30,344.95 248.70,337.87 249.10,329.88 249.50,321.24 249.90,312.29 250.30,303.46 250.70,295.25 251.10,288.18 251.50,282.72 251.90,279.28 252.30,278.10 252.70,278.91 253.10,281.31 253.50,285.16 253.90,290.25 254.30,296.33 254.70,303.11 255.10,310.27 255.50,317.54 255.90,324.64 256.30,331.37 256.70,337.57 257.10,343.11 257.50,347.95 257.90,352.06 258.30,355.48 258.70,358.23 259.10,360.38 259.50,362.01 259.90,363.18 260.30,363.99 260.70,364.49 261.10,364.76 261.50,364.89 261.90,364.93 262.30,364.95 262.70,365.00 263.10,365.12 263.50,365.34 263.90,365.66 264.30,366.07 264.70,366.56 265.10,367.10 265.50,367.65 265.90,368.19 266.30,368.69 266.70,369.14 267.10,369.51 267.50,369.82 267.90,370.07 268.30,370.25" fill="none" stroke="#2a2a2a" stroke-width="1.1" stroke-linejoin="round" />
<polyline points="255.20,370.67 255.60,370.65 256.00,370.60 256.40,370.53 256.80,370.40 257.20,370.19 257.60,369.86 258.00,369.35 258.40,368.58 258.80,367.47 259.20,365.90 259.60,363.74 260.00,360.87 260.40,357.16 260.80,352.53 261.20,346.93 261.60,340.38 262.00,333.01 262.40,325.04 262.80,316.77 263.20,308.61 263.60,301.03 264.00,294.50 264.40,289.47 264.80,286.29 265.20,285.20 265.60,285.95 266.00,288.16 266.40,291.71 266.80,296.42 267.20,302.03 267.60,308.29 268.00,314.90 268.40,321.61 268.80,328.17 269.20,334.39 269.60,340.11 270.00,345.23 270.40,349.69 270.80,353.49 271.20,356.64 271.60,359.18 272.00,361.17 272.40,362.68 272.80,363.76 273.20,364.50 273.60,364.96 274.00,365.22 274.40,365.33 274.80,365.37 275.20,365.39 275.60,365.44 276.00,365.55 276.40,365.75 276.80,366.04 277.20,366.42 277.60,366.88 278.00,367.37 278.40,367.88 278.80,368.38 279.20,368.85 279.60,369.26 280.00,369.61 280.40,369.89 280.80,370.11 281.20,370.28" fill="none" stroke="#2a2a2a" stroke-width="1.1" stroke-linejoin="round" />
<polyline points="266.20,370.68 266.60,370.66 267.00,370.62 267.40,370.56 267.80,370.46 268.20,370.30 268.60,370.04 269.00,369.64 269.40,369.05 269.80,368.18 270.20,366.95 270.60,365.26 271.00,363.02 271.40,360.12 271.80,356.50 272.20,352.13 272.60,347.01 273.00,341.26 273.40,335.02 273.80,328.56 274.20,322.19 274.60,316.27 275.00,311.17 275.40,307.23 275.80,304.75 276.20,303.90 276.60,304.49 277.00,306.21 277.40,308.99 277.80,312.66 278.20,317.05 278.60,321.94 279.00,327.11 279.40,332.35 279.80,337.48 280.20,342.33 280.60,346.80 281.00,350.80 281.40,354.29 281.80,357.26 282.20,359.72 282.60,361.70 283.00,363.26 283.40,364.43 283.80,365.28 284.20,365.86 284.60,366.22 285.00,366.42 285.40,366.51 285.80,366.54 286.20,366.55 286.60,366.59 287.00,366.68 287.40,366.83 287.80,367.06 288.20,367.36 288.60,367.71 289.00,368.10 289.40,368.50 289.80,368.89 290.20,369.25 290.60,369.57 291.00,369.84 291.40,370.07 291.80,370.24 292.20,370.38" fill="none" stroke="#2a2a2a" stroke-width="1.1" stroke-linejoin="round" />
<polyline points="276.90,370.68 277.30,370.66 277.70,370.63 278.10,370.57 278.50,370.48 278.90,370.33 279.30,370.09 279.70,369.72 280.10,369.17 280.50,368.37 280.90,367.23 281.30,365.67 281.70,363.60 282.10,360.92 282.50,357.57 282.90,353.52 283.30,348.79 283.70,343.46 284.10,337.69 284.50,331.72 284.90,325.82 285.30,320.34 285.70,315.62 286.10,311.98 286.50,309.69 286.90,308.90 287.30,309.44 287.70,311.04 288.10,313.61 288.50,317.01 288.90,321.07 289.30,325.59 289.70,330.37 290.10,335.22 290.50,339.96 290.90,344.45 291.30,348.59 291.70,352.29 292.10,355.52 292.50,358.26 292.90,360.54 293.30,362.38 293.70,363.81 294.10,364.90 294.50,365.68 294.90,366.22 295.30,366.55 295.70,366.74 296.10,366.82 296.50,366.85 296.90,366.86 297.30,366.90 297.70,366.98 298.10,367.12 298.50,367.33 298.90,367.61 299.30,367.94 299.70,368.29 300.10,368.66 300.50,369.03 300.90,369.36 301.30,369.66 301.70,369.91 302.10,370.11 302.50,370.28 302.90,370.40" fill="none" stroke="#2a2a2a" stroke-width="1.1" stroke-linejoin="round" />
<polyline points="286.90,370.68 287.30,370.66 287.70,370.63 288.10,370.58 288.50,370.49 288.90,370.34 289.30,370.10 289.70,369.74 290.10,369.20 290.50,368.42 290.90,367.30 291.30,365.78 291.70,363.75 292.10,361.12 292.50,357.84 292.90,353.88 293.30,349.25 293.70,344.03 294.10,338.39 294.50,332.54 294.90,326.77 295.30,321.40 295.70,316.78 296.10,313.22 296.50,310.97 296.90,310.20 297.30,310.73 297.70,312.30 298.10,314.81 298.50,318.14 298.90,322.11 299.30,326.54 299.70,331.22 300.10,335.97 300.50,340.61 300.90,345.01 301.30,349.05 301.70,352.68 302.10,355.84 302.50,358.52 302.90,360.75 303.30,362.55 303.70,363.96 304.10,365.02 304.50,365.79 304.90,366.31 305.30,366.64 305.70,366.82 306.10,366.90 306.50,366.93 306.90,366.94 307.30,366.98 307.70,367.06 308.10,367.20 308.50,367.40 308.90,367.67 309.30,367.99 309.70,368.35 310.10,368.71 310.50,369.06 310.90,369.39 311.30,369.68 311.70,369.93 312.10,370.13 312.50,370.29 312.90,370.41" fill="none" stroke="#2a2a2a" stroke-width="1.1" stroke-linejoin="round" />
<polyline points="296.20,370.68 296.60,370.67 297.00,370.64 297.40,370.60 297.80,370.52 298.20,370.39 298.60,370.19 299.00,369.89 299.40,369.43 299.80,368.76 300.20,367.81 300.60,366.52 301.00,364.79 301.40,362.56 301.80,359.78 302.20,356.41 302.60,352.47 303.00,348.04 303.40,343.25 303.80,338.28 304.20,333.38 304.60,328.82 305.00,324.89 305.40,321.87 305.80,319.95 306.20,319.30 306.60,319.75 307.00,321.08 307.40,323.22 307.80,326.04 308.20,329.42 308.60,333.18 309.00,337.16 309.40,341.19 309.80,345.14 310.20,348.87 310.60,352.31 311.00,355.39 311.40,358.07 311.80,360.36 312.20,362.25 312.60,363.78 313.00,364.97 313.40,365.88 313.80,366.53 314.20,366.97 314.60,367.25 315.00,367.40 315.40,367.47 315.80,367.50 316.20,367.51 316.60,367.54 317.00,367.60 317.40,367.72 317.80,367.90 318.20,368.13 318.60,368.40 319.00,368.70 319.40,369.01 319.80,369.31 320.20,369.59 320.60,369.83 321.00,370.04 321.40,370.21 321.80,370.35 322.20,370.45" fill="none" stroke="#2a2a2a" stroke-width="1.1" stroke-linejoin="round" />
<polyline points="304.30,370.69 304.70,370.67 305.10,370.65 305.50,370.61 305.90,370.55 306.30,370.45 306.70,370.29 307.10,370.04 307.50,369.66 307.90,369.11 308.30,368.34 308.70,367.28 309.10,365.87 309.50,364.05 309.90,361.77 310.30,359.02 310.70,355.81 311.10,352.19 311.50,348.27 311.90,344.21 312.30,340.20 312.70,336.48 313.10,333.27 313.50,330.80 313.90,329.23 314.30,328.70 314.70,329.07 315.10,330.16 315.50,331.90 315.90,334.21 316.30,336.97 316.70,340.04 317.10,343.29 317.50,346.59 317.90,349.81 318.30,352.86 318.70,355.67 319.10,358.19 319.50,360.38 319.90,362.25 320.30,363.79 320.70,365.04 321.10,366.02 321.50,366.76 321.90,367.29 322.30,367.65 322.70,367.88 323.10,368.01 323.50,368.06 323.90,368.08 324.30,368.09 324.70,368.12 325.10,368.17 325.50,368.27 325.90,368.41 326.30,368.60 326.70,368.82 327.10,369.07 327.50,369.32 327.90,369.56 328.30,369.79 328.70,369.99 329.10,370.16 329.50,370.30 329.90,370.41 330.30,370.50" fill="none" stroke="#2a2a2a" stroke-width="1.1" stroke-linejoin="round" />
<polyline points="312.20,370.69 312.60,370.68 313.00,370.67 313.40,370.64 313.80,370.60 314.20,370.52 314.60,370.41 315.00,370.24 315.40,369.97 315.80,369.59 316.20,369.05 316.60,368.31 317.00,367.32 317.40,366.05 317.80,364.45 318.20,362.53 318.60,360.28 319.00,357.74 319.40,355.00 319.80,352.16 320.20,349.35 320.60,346.74 321.00,344.50 321.40,342.77 321.80,341.67 322.20,341.30 322.60,341.56 323.00,342.32 323.40,343.54 323.80,345.16 324.20,347.09 324.60,349.24 325.00,351.51 325.40,353.82 325.80,356.08 326.20,358.21 326.60,360.18 327.00,361.94 327.40,363.48 327.80,364.78 328.20,365.87 328.60,366.74 329.00,367.42 329.40,367.94 329.80,368.31 330.20,368.57 330.60,368.73 331.00,368.82 331.40,368.85 331.80,368.87 332.20,368.87 332.60,368.89 333.00,368.93 333.40,369.00 333.80,369.10 334.20,369.23 334.60,369.39 335.00,369.56 335.40,369.73 335.80,369.90 336.20,370.06 336.60,370.20 337.00,370.32 337.40,370.42 337.80,370.50 338.20,370.56" fill="none" stroke="#2a2a2a" stroke-width="1.1" stroke-linejoin="round" />
<polyline points="319.40,370.69 319.80,370.68 320.20,370.67 320.60,370.65 321.00,370.61 321.40,370.54 321.80,370.44 322.20,370.29 322.60,370.06 323.00,369.72 323.40,369.24 323.80,368.58 324.20,367.71 324.60,366.58 325.00,365.17 325.40,363.47 325.80,361.48 326.20,359.24 326.60,356.81 327.00,354.30 327.40,351.82 327.80,349.51 328.20,347.53 328.60,346.00 329.00,345.03 329.40,344.70 329.80,344.93 330.20,345.60 330.60,346.68 331.00,348.11 331.40,349.82 331.80,351.72 332.20,353.73 332.60,355.77 333.00,357.77 333.40,359.66 333.80,361.40 334.20,362.95 334.60,364.31 335.00,365.47 335.40,366.43 335.80,367.20 336.20,367.80 336.60,368.26 337.00,368.59 337.40,368.81 337.80,368.96 338.20,369.03 338.60,369.07 339.00,369.08 339.40,369.09 339.80,369.10 340.20,369.13 340.60,369.19 341.00,369.28 341.40,369.40 341.80,369.54 342.20,369.69 342.60,369.84 343.00,370.00 343.40,370.14 343.80,370.26 344.20,370.37 344.60,370.45 345.00,370.52 345.40,370.57" fill="none" stroke="#2a2a2a" stroke-width="1.1" stroke-linejoin="round" />
<polyline points="326.10,370.69 326.50,370.69 326.90,370.68 327.30,370.66 327.70,370.63 328.10,370.58 328.50,370.51 328.90,370.39 329.30,370.22 329.70,369.96 330.10,369.61 330.50,369.11 330.90,368.46 331.30,367.61 331.70,366.56 332.10,365.28 332.50,363.79 332.90,362.10 333.30,360.29 333.70,358.40 334.10,356.54 334.50,354.81 334.90,353.32 335.30,352.17 335.70,351.45 336.10,351.20 336.50,351.37 336.90,351.88 337.30,352.69 337.70,353.76 338.10,355.04 338.50,356.47 338.90,357.97 339.30,359.50 339.70,361.00 340.10,362.42 340.50,363.72 340.90,364.89 341.30,365.91 341.70,366.78 342.10,367.49 342.50,368.07 342.90,368.53 343.30,368.87 343.70,369.12 344.10,369.29 344.50,369.39 344.90,369.45 345.30,369.48 345.70,369.49 346.10,369.49 346.50,369.50 346.90,369.53 347.30,369.57 347.70,369.64 348.10,369.72 348.50,369.83 348.90,369.94 349.30,370.06 349.70,370.17 350.10,370.28 350.50,370.37 350.90,370.45 351.30,370.52 351.70,370.57 352.10,370.61" fill="none" stroke="#2a2a2a" stroke-width="1.1" stroke-linejoin="round" />
<polyline points="331.30,370.70 331.70,370.70 332.10,370.69 332.50,370.68 332.90,370.67 333.30,370.65 333.70,370.63 334.10,370.58 334.50,370.51 334.90,370.41 335.30,370.27 335.70,370.08 336.10,369.83 336.50,369.50 336.90,369.08 337.30,368.59 337.70,368.01 338.10,367.35 338.50,366.64 338.90,365.91 339.30,365.18 339.70,364.51 340.10,363.93 340.50,363.48 340.90,363.20 341.30,363.10 341.70,363.17 342.10,363.36 342.50,363.68 342.90,364.10 343.30,364.60 343.70,365.15 344.10,365.74 344.50,366.34 344.90,366.92 345.30,367.47 345.70,367.98 346.10,368.44 346.50,368.83 346.90,369.17 347.30,369.45 347.70,369.68 348.10,369.85 348.50,369.99 348.90,370.08 349.30,370.15 349.70,370.19 350.10,370.21 350.50,370.22 350.90,370.23 351.30,370.23 351.70,370.23 352.10,370.24 352.50,370.26 352.90,370.29 353.30,370.32 353.70,370.36 354.10,370.40 354.50,370.45 354.90,370.49 355.30,370.54 355.70,370.57 356.10,370.60 356.50,370.63 356.90,370.65 357.30,370.66" fill="none" stroke="#2a2a2a" stroke-width="1.1" stroke-linejoin="round" />
<polyline points="334.50,370.70 334.90,370.70 335.30,370.70 335.70,370.69 336.10,370.69 336.50,370.67 336.90,370.66 337.30,370.63 337.70,370.60 338.10,370.54 338.50,370.46 338.90,370.36 339.30,370.22 339.70,370.04 340.10,369.81 340.50,369.53 340.90,369.21 341.30,368.85 341.70,368.46 342.10,368.05 342.50,367.65 342.90,367.28 343.30,366.96 343.70,366.71 344.10,366.55 344.50,366.50 344.90,366.54 345.30,366.65 345.70,366.82 346.10,367.05 346.50,367.33 346.90,367.63 347.30,367.96 347.70,368.29 348.10,368.61 348.50,368.92 348.90,369.20 349.30,369.45 349.70,369.67 350.10,369.85 350.50,370.01 350.90,370.13 351.30,370.23 351.70,370.31 352.10,370.36 352.50,370.40 352.90,370.42 353.30,370.43 353.70,370.44 354.10,370.44 354.50,370.44 354.90,370.44 355.30,370.45 355.70,370.46 356.10,370.47 356.50,370.49 356.90,370.51 357.30,370.54 357.70,370.56 358.10,370.59 358.50,370.61 358.90,370.63 359.30,370.65 359.70,370.66 360.10,370.67 360.50,370.68" fill="none" stroke="#2a2a2a" stroke-width="1.1" stroke-linejoin="round" />
<polyline points="225.40,372.10 225.90,372.29 226.40,372.47 226.90,372.63 227.40,372.77 227.90,372.86 228.40,372.93 228.90,372.95 229.40,372.93 229.90,372.87 230.40,372.78 230.90,372.66 231.40,372.51 231.90,372.35 232.40,372.18 232.90,372.01 233.40,371.84 233.90,371.69 234.40,371.56 234.90,371.46 235.40,371.39 235.90,371.35 236.40,371.35 236.90,371.39 237.40,371.46 237.90,371.55 238.40,371.67 238.90,371.81 239.40,371.96 239.90,372.11 240.40,372.27 240.90,372.41 241.40,372.53 241.90,372.63 242.40,372.71 242.90,372.75 243.40,372.77 243.90,372.75 244.40,372.70 244.90,372.63 245.40,372.53 245.90,372.41 246.40,372.28 246.90,372.15 247.40,372.01 247.90,371.88 248.40,371.77 248.90,371.67 249.40,371.59 249.90,371.54 250.40,371.51 250.90,371.51 251.40,371.54 251.90,371.60 252.40,371.68 252.90,371.77 253.40,371.88 253.90,372.00 254.40,372.12 254.90,372.24 255.40,372.35 255.90,372.45 256.40,372.52 256.90,372.58 257.40,372.61 257.90,372.62 258.40,372.61 258.90,372.57 259.40,372.51 259.90,372.43 260.40,372.34 260.90,372.23 261.40,372.13 261.90,372.02 262.40,371.92 262.90,371.83 263.40,371.75 263.90,371.69 264.40,371.65 264.90,371.64 265.40,371.64 265.90,371.67 266.40,371.71 266.90,371.77 267.40,371.85 267.90,371.94 268.40,372.03 268.90,372.13 269.40,372.22 269.90,372.30 270.40,372.38 270.90,372.44 271.40,372.48 271.90,372.51 272.40,372.51 272.90,372.50 273.40,372.46 273.90,372.42 274.40,372.35 274.90,372.28 275.40,372.20 275.90,372.11 276.40,372.03 276.90,371.95 277.40,371.88 277.90,371.82 278.40,371.78 278.90,371.75 279.40,371.74 279.90,371.74 280.40,371.76 280.90,371.80 281.40,371.85 281.90,371.91 282.40,371.98 282.90,372.05 283.40,372.13 283.90,372.20 284.40,372.27 284.90,372.32 285.40,372.37 285.90,372.40 286.40,372.42 286.90,372.42 287.40,372.41 287.90,372.38 288.40,372.34 288.90,372.29 289.40,372.23 289.90,372.17 290.40,372.10 290.90,372.04 291.40,371.98 291.90,371.92 292.40,371.88 292.90,371.84 293.40,371.82 293.90,371.81 294.40,371.82 294.90,371.84 295.40,371.87 295.90,371.91 296.40,371.96 296.90,372.01 297.40,372.07 297.90,372.13 298.40,372.18 298.90,372.24 299.40,372.28 299.90,372.32" fill="none" stroke="#555" stroke-width="0.7" stroke-linejoin="round" />
<line x1="225.40" y1="370.70" x2="300.00" y2="370.70" stroke="#111" stroke-width="2.4" />
<line x1="300.00" y1="370.70" x2="363.80" y2="370.70" stroke="#111" stroke-width="1.5" />
<rect x="225.40" y="265.30" width="138.40" height="112.30" fill="none" stroke="#666" stroke-width="1"/>
<text x="222.30" y="268.20" font-size="8.0" font-weight="bold" text-anchor="end" fill="#111" font-family='"Liberation Sans", sans-serif' ><tspan dy="-0.00" font-size="8.00">160</tspan></text>
<line x1="225.40" y1="265.32" x2="227.40" y2="265.32" stroke="#666" stroke-width="1" />
<text x="222.30" y="281.46" font-size="8.0" font-weight="bold" text-anchor="end" fill="#111" font-family='"Liberation Sans", sans-serif' ><tspan dy="-0.00" font-size="8.00">140</tspan></text>
<line x1="225.40" y1="278.58" x2="227.40" y2="278.58" stroke="#666" stroke-width="1" />
<text x="222.30" y="294.72" font-size="8.0" font-weight="bold" text-anchor="end" fill="#111" font-family='"Liberation Sans", sans-serif' ><tspan dy="-0.00" font-size="8.00">120</tspan></text>
<line x1="225.40" y1="291.84" x2="227.40" y2="291.84" stroke="#666" stroke-width="1" />
<text x="222.30" y="307.98" font-size="8.0" font-weight="bold" text-anchor="end" fill="#111" font-family='"Liberation Sans", sans-serif' ><tspan dy="-0.00" font-size="8.00">100</tspan></text>
<line x1="225.40" y1="305.10" x2="227.40" y2="305.10" stroke="#666" stroke-width="1" />
<text x="222.30" y="321.24" font-size="8.0" font-weight="bold" text-anchor="end" fill="#111" font-family='"Liberation Sans", sans-serif' ><tspan dy="-0.00" font-size="8.00">80</tspan></text>
<line x1="225.40" y1="318.36" x2="227.40" y2="318.36" stroke="#666" stroke-width="1" />
<text x="222.30" y="334.50" font-size="8.0" font-weight="bold" text-anchor="end" fill="#111" font-family='"Liberation Sans", sans-serif' ><tspan dy="-0.00" font-size="8.00">60</tspan></text>
<line x1="225.40" y1="331.62" x2="227.40" y2="331.62" stroke="#666" stroke-width="1" />
<text x="222.30" y="347.76" font-size="8.0" font-weight="bold" text-anchor="end" fill="#111" font-family='"Liberation Sans", sans-serif' ><tspan dy="-0.00" font-size="8.00">40</tspan></text>
<line x1="225.40" y1="344.88" x2="227.40" y2="344.88" stroke="#666" stroke-width="1" />
<text x="222.30" y="361.02" font-size="8.0" font-weight="bold" text-anchor="end" fill="#111" font-family='"Liberation Sans", sans-serif' ><tspan dy="-0.00" font-size="8.00">20</tspan></text>
<line x1="225.40" y1="358.14" x2="227.40" y2="358.14" stroke="#666" stroke-width="1" />
<text x="222.30" y="374.28" font-size="8.0" font-weight="bold" text-anchor="end" fill="#111" font-family='"Liberation Sans", sans-serif' ><tspan dy="-0.00" font-size="8.00">0</tspan></text>
<line x1="225.40" y1="371.40" x2="227.40" y2="371.40" stroke="#666" stroke-width="1" />
<text x="244.40" y="387.41" font-size="7.8" font-weight="bold" text-anchor="middle" fill="#111" font-family='"Liberation Sans", sans-serif' ><tspan dy="-0.00" font-size="7.80">5951</tspan></text>
<line x1="244.40" y1="377.60" x2="244.40" y2="375.60" stroke="#666" stroke-width="1" />
<text x="283.30" y="387.41" font-size="7.8" font-weight="bold" text-anchor="middle" fill="#111" font-family='"Liberation Sans", sans-serif' ><tspan dy="-0.00" font-size="7.80">5952</tspan></text>
<line x1="283.30" y1="377.60" x2="283.30" y2="375.60" stroke="#666" stroke-width="1" />
<text x="322.20" y="387.41" font-size="7.8" font-weight="bold" text-anchor="middle" fill="#111" font-family='"Liberation Sans", sans-serif' ><tspan dy="-0.00" font-size="7.80">5953</tspan></text>
<line x1="322.20" y1="377.60" x2="322.20" y2="375.60" stroke="#666" stroke-width="1" />
<text x="361.10" y="387.41" font-size="7.8" font-weight="bold" text-anchor="middle" fill="#111" font-family='"Liberation Sans", sans-serif' ><tspan dy="-0.00" font-size="7.80">5954</tspan></text>
<line x1="361.10" y1="377.60" x2="361.10" y2="375.60" stroke="#666" stroke-width="1" />
<text x="242.60" y="274.55" font-size="6.8" font-weight="bold" text-anchor="start" fill="#111" font-family='"Liberation Sans", sans-serif' ><tspan dy="-0.00" font-size="6.80">120mA</tspan></text>
<text x="255.80" y="283.15" font-size="6.8" font-weight="bold" text-anchor="start" fill="#111" font-family='"Liberation Sans", sans-serif' ><tspan dy="-0.00" font-size="6.80">110mA</tspan></text>
<text x="267.40" y="294.95" font-size="6.8" font-weight="bold" text-anchor="start" fill="#111" font-family='"Liberation Sans", sans-serif' ><tspan dy="-0.00" font-size="6.80">100mA</tspan></text>
<text x="280.50" y="302.05" font-size="6.8" font-weight="bold" text-anchor="start" fill="#111" font-family='"Liberation Sans", sans-serif' ><tspan dy="-0.00" font-size="6.80">90mA</tspan></text>
<text x="291.10" y="307.75" font-size="6.8" font-weight="bold" text-anchor="start" fill="#111" font-family='"Liberation Sans", sans-serif' ><tspan dy="-0.00" font-size="6.80">80mA</tspan></text>
<text x="300.10" y="315.85" font-size="6.8" font-weight="bold" text-anchor="start" fill="#111" font-family='"Liberation Sans", sans-serif' ><tspan dy="-0.00" font-size="6.80">70mA</tspan></text>
<text x="308.00" y="325.05" font-size="6.8" font-weight="bold" text-anchor="start" fill="#111" font-family='"Liberation Sans", sans-serif' ><tspan dy="-0.00" font-size="6.80">60mA</tspan></text>
<text x="317.00" y="334.55" font-size="6.8" font-weight="bold" text-anchor="start" fill="#111" font-family='"Liberation Sans", sans-serif' ><tspan dy="-0.00" font-size="6.80">50mA</tspan></text>
<text x="324.90" y="341.25" font-size="6.8" font-weight="bold" text-anchor="start" fill="#111" font-family='"Liberation Sans", sans-serif' ><tspan dy="-0.00" font-size="6.80">40mA</tspan></text>
<text x="332.30" y="348.05" font-size="6.8" font-weight="bold" text-anchor="start" fill="#111" font-family='"Liberation Sans", sans-serif' ><tspan dy="-0.00" font-size="6.80">30mA</tspan></text>
<text x="339.00" y="359.55" font-size="6.8" font-weight="bold" text-anchor="start" fill="#111" font-family='"Liberation Sans", sans-serif' ><tspan dy="-0.00" font-size="6.80">20mA</tspan></text>
<text x="345.10" y="366.75" font-size="6.8" font-weight="bold" text-anchor="start" fill="#111" font-family='"Liberation Sans", sans-serif' ><tspan dy="-0.00" font-size="6.80">10mA</tspan></text>
<text transform="translate(201.10,323.00) rotate(-90)" x="0" y="2.99" font-size="8.3" font-weight="bold" text-anchor="middle" fill="#111" font-family='"Liberation Sans", sans-serif'><tspan dy="-0.00" font-size="8.30">Laser Spectrum (a.u.)</tspan></text>
<text x="256.90" y="397.49" font-size="8.3" font-weight="bold" text-anchor="start" fill="#111" font-family='"Liberation Sans", sans-serif' ><tspan dy="-0.00" font-size="8.30">Wavenumber (cm</tspan><tspan dy="-3.15" font-size="5.64">-1</tspan><tspan dy="3.15" font-size="8.30">)</tspan></text>
</svg>
</body></html>
